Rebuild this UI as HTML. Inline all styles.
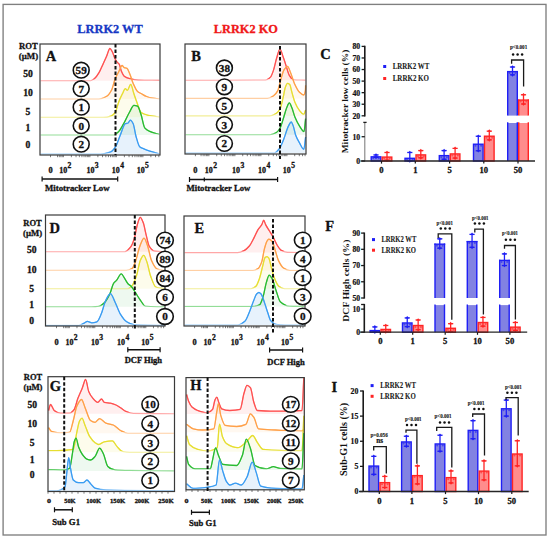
<!DOCTYPE html><html><head><meta charset="utf-8"><style>html,body{margin:0;padding:0;background:#fff;overflow:hidden;width:550px;height:541px;}svg{display:block;}</style></head><body>
<svg width="550" height="541" viewBox="0 0 550 541" font-family='"Liberation Serif", serif'>
<rect x="0" y="0" width="550" height="541" fill="#fff" stroke="none" stroke-width="1" />
<rect x="3.1" y="4.4" width="542.9" height="530.6" fill="none" stroke="#7f7f7f" stroke-width="1.35" />
<text x="77.3" y="33.1" font-size="12.4" fill="#1537c4" text-anchor="start" font-weight="bold" stroke="#1537c4" stroke-width="0.3" textLength="65.4" lengthAdjust="spacingAndGlyphs" >LRRK2 WT</text>
<text x="213.8" y="32.7" font-size="12.4" fill="#f01818" text-anchor="start" font-weight="bold" stroke="#f01818" stroke-width="0.3" textLength="64" lengthAdjust="spacingAndGlyphs" >LRRK2 KO</text>
<path d="M40.6,80.7 C57.27,80.7 73.93,80.7 90.6,80.7 C92,80.7 93.4,79.42 94.8,78.3 C96.2,77.18 97.6,75 99,72.7 C100.4,70.4 101.8,66.76 103.2,63.7 C104.37,61.15 105.53,58.55 106.7,55.9 C107.77,53.48 108.83,48.5 109.9,48.5 C110.7,48.5 111.5,50.29 112.3,51.7 C113.1,53.11 113.9,56.31 114.7,58 C115.43,59.55 116.17,60.96 116.9,61.9 C117.7,62.93 118.5,63.05 119.3,64.3 C120,65.39 120.7,69.67 121.4,71.3 C122.33,73.47 123.27,75.49 124.2,76.2 C126.07,77.62 127.93,78.23 129.8,78.7 C132.6,79.4 135.4,80.02 138.2,80.1 C145.27,80.31 152.33,80.3 159.4,80.4 L159.4,80.7 L40.6,80.7 Z" fill="rgba(255,80,80,0.09)" stroke="none"/>
<path d="M40.6,99 C60.07,99 79.53,99 99,99 C101.57,99 104.13,97.78 106.7,96.3 C108.33,95.36 109.97,93.05 111.6,90 C112.77,87.82 113.93,81.85 115.1,79 C116.27,76.15 117.43,74.25 118.6,72 C119.77,69.75 120.93,65.5 122.1,65.5 C122.8,65.5 123.5,67.31 124.2,67.6 C125.13,67.98 126.07,67.88 127,68.3 C127.93,68.72 128.87,71.82 129.8,74 C130.97,76.72 132.13,81.11 133.3,83.7 C134.7,86.81 136.1,90.15 137.5,91.4 C138.67,92.44 139.83,92.84 141,93.5 C142.87,94.56 144.73,95.82 146.6,96.5 C148.4,97.16 150.2,97.71 152,98 C154.47,98.39 156.93,98.53 159.4,98.8 L159.4,99 L40.6,99 Z" fill="rgba(255,160,70,0.08)" stroke="none"/>
<path d="M40.6,117.3 C61.6,117.3 82.6,117.3 103.6,117.3 C106.03,117.3 108.47,116.81 110.9,116.1 C112.33,115.68 113.77,114.41 115.2,112.5 C116.4,110.9 117.6,104.74 118.8,101.7 C120,98.66 121.2,96.13 122.4,93.8 C123.37,91.92 124.33,88.7 125.3,88.7 C126,88.7 126.7,90.3 127.4,90.3 C128.5,90.3 129.6,84.4 130.7,84.4 C131.77,84.4 132.83,90.74 133.9,93.8 C135.1,97.25 136.3,100.8 137.5,103.9 C138.7,107 139.9,111.63 141.1,112.5 C143.5,114.24 145.9,114.76 148.3,115.3 C152,116.14 155.7,116.43 159.4,117 L159.4,117.3 L40.6,117.3 Z" fill="rgba(230,225,40,0.09)" stroke="none"/>
<path d="M40.6,135 C64.97,135 89.33,135 113.7,135 C115.4,135 117.1,133.07 118.8,131.4 C120.47,129.77 122.13,126.33 123.8,123.4 C125.73,120 127.67,115.31 129.6,112 C131.03,109.54 132.47,105.4 133.9,105.4 C135.1,105.4 136.3,105.67 137.5,106.1 C138.7,106.53 139.9,111.33 141.1,114.8 C142.3,118.27 143.5,126.33 144.7,127.8 C146.4,129.89 148.1,130.62 149.8,131.4 C153,132.87 156.2,133.47 159.4,134.5 L159.4,135 L40.6,135 Z" fill="rgba(40,180,60,0.08)" stroke="none"/>
<path d="M40.6,154 C60.67,154 80.73,154 100.8,154 C104.17,154 107.53,153.13 110.9,151.8 C112.57,151.14 114.23,148.74 115.9,146.1 C117.33,143.83 118.77,138.73 120.2,135.3 C121.9,131.24 123.6,124.41 125.3,123.7 C126.23,123.31 127.17,123.4 128.1,123 C128.83,122.68 129.57,120.1 130.3,120.1 C131.27,120.1 132.23,121.82 133.2,123.7 C134.17,125.58 135.13,133.34 136.1,136.7 C137.3,140.88 138.5,145.78 139.7,146.8 C141.13,148.02 142.57,148.28 144,148.9 C145.93,149.73 147.87,150.47 149.8,151.1 C153,152.15 156.2,152.9 159.4,153.8 L159.4,154 L40.6,154 Z" fill="rgba(60,150,230,0.12)" stroke="none"/>
<clipPath id="cA0"><rect x="38" y="39" width="124" height="40.4"/></clipPath>
<path d="M40.6,80.7 C57.27,80.7 73.93,80.7 90.6,80.7 C92,80.7 93.4,79.42 94.8,78.3 C96.2,77.18 97.6,75 99,72.7 C100.4,70.4 101.8,66.76 103.2,63.7 C104.37,61.15 105.53,58.55 106.7,55.9 C107.77,53.48 108.83,48.5 109.9,48.5 C110.7,48.5 111.5,50.29 112.3,51.7 C113.1,53.11 113.9,56.31 114.7,58 C115.43,59.55 116.17,60.96 116.9,61.9 C117.7,62.93 118.5,63.05 119.3,64.3 C120,65.39 120.7,69.67 121.4,71.3 C122.33,73.47 123.27,75.49 124.2,76.2 C126.07,77.62 127.93,78.23 129.8,78.7 C132.6,79.4 135.4,80.02 138.2,80.1 C145.27,80.31 152.33,80.3 159.4,80.4" fill="none" stroke="#ff5050" stroke-opacity="0.5" stroke-width="1.1" stroke-linejoin="round"/>
<path d="M40.6,80.7 C57.27,80.7 73.93,80.7 90.6,80.7 C92,80.7 93.4,79.42 94.8,78.3 C96.2,77.18 97.6,75 99,72.7 C100.4,70.4 101.8,66.76 103.2,63.7 C104.37,61.15 105.53,58.55 106.7,55.9 C107.77,53.48 108.83,48.5 109.9,48.5 C110.7,48.5 111.5,50.29 112.3,51.7 C113.1,53.11 113.9,56.31 114.7,58 C115.43,59.55 116.17,60.96 116.9,61.9 C117.7,62.93 118.5,63.05 119.3,64.3 C120,65.39 120.7,69.67 121.4,71.3 C122.33,73.47 123.27,75.49 124.2,76.2 C126.07,77.62 127.93,78.23 129.8,78.7 C132.6,79.4 135.4,80.02 138.2,80.1 C145.27,80.31 152.33,80.3 159.4,80.4" fill="none" stroke="#ff5050" stroke-width="1.3" stroke-linejoin="round" clip-path="url(#cA0)"/>
<clipPath id="cA1"><rect x="38" y="39" width="124" height="58.7"/></clipPath>
<path d="M40.6,99 C60.07,99 79.53,99 99,99 C101.57,99 104.13,97.78 106.7,96.3 C108.33,95.36 109.97,93.05 111.6,90 C112.77,87.82 113.93,81.85 115.1,79 C116.27,76.15 117.43,74.25 118.6,72 C119.77,69.75 120.93,65.5 122.1,65.5 C122.8,65.5 123.5,67.31 124.2,67.6 C125.13,67.98 126.07,67.88 127,68.3 C127.93,68.72 128.87,71.82 129.8,74 C130.97,76.72 132.13,81.11 133.3,83.7 C134.7,86.81 136.1,90.15 137.5,91.4 C138.67,92.44 139.83,92.84 141,93.5 C142.87,94.56 144.73,95.82 146.6,96.5 C148.4,97.16 150.2,97.71 152,98 C154.47,98.39 156.93,98.53 159.4,98.8" fill="none" stroke="#ffa048" stroke-opacity="0.5" stroke-width="1.1" stroke-linejoin="round"/>
<path d="M40.6,99 C60.07,99 79.53,99 99,99 C101.57,99 104.13,97.78 106.7,96.3 C108.33,95.36 109.97,93.05 111.6,90 C112.77,87.82 113.93,81.85 115.1,79 C116.27,76.15 117.43,74.25 118.6,72 C119.77,69.75 120.93,65.5 122.1,65.5 C122.8,65.5 123.5,67.31 124.2,67.6 C125.13,67.98 126.07,67.88 127,68.3 C127.93,68.72 128.87,71.82 129.8,74 C130.97,76.72 132.13,81.11 133.3,83.7 C134.7,86.81 136.1,90.15 137.5,91.4 C138.67,92.44 139.83,92.84 141,93.5 C142.87,94.56 144.73,95.82 146.6,96.5 C148.4,97.16 150.2,97.71 152,98 C154.47,98.39 156.93,98.53 159.4,98.8" fill="none" stroke="#ffa048" stroke-width="1.3" stroke-linejoin="round" clip-path="url(#cA1)"/>
<clipPath id="cA2"><rect x="38" y="39" width="124" height="77"/></clipPath>
<path d="M40.6,117.3 C61.6,117.3 82.6,117.3 103.6,117.3 C106.03,117.3 108.47,116.81 110.9,116.1 C112.33,115.68 113.77,114.41 115.2,112.5 C116.4,110.9 117.6,104.74 118.8,101.7 C120,98.66 121.2,96.13 122.4,93.8 C123.37,91.92 124.33,88.7 125.3,88.7 C126,88.7 126.7,90.3 127.4,90.3 C128.5,90.3 129.6,84.4 130.7,84.4 C131.77,84.4 132.83,90.74 133.9,93.8 C135.1,97.25 136.3,100.8 137.5,103.9 C138.7,107 139.9,111.63 141.1,112.5 C143.5,114.24 145.9,114.76 148.3,115.3 C152,116.14 155.7,116.43 159.4,117" fill="none" stroke="#e6de30" stroke-opacity="0.5" stroke-width="1.1" stroke-linejoin="round"/>
<path d="M40.6,117.3 C61.6,117.3 82.6,117.3 103.6,117.3 C106.03,117.3 108.47,116.81 110.9,116.1 C112.33,115.68 113.77,114.41 115.2,112.5 C116.4,110.9 117.6,104.74 118.8,101.7 C120,98.66 121.2,96.13 122.4,93.8 C123.37,91.92 124.33,88.7 125.3,88.7 C126,88.7 126.7,90.3 127.4,90.3 C128.5,90.3 129.6,84.4 130.7,84.4 C131.77,84.4 132.83,90.74 133.9,93.8 C135.1,97.25 136.3,100.8 137.5,103.9 C138.7,107 139.9,111.63 141.1,112.5 C143.5,114.24 145.9,114.76 148.3,115.3 C152,116.14 155.7,116.43 159.4,117" fill="none" stroke="#e6de30" stroke-width="1.3" stroke-linejoin="round" clip-path="url(#cA2)"/>
<clipPath id="cA3"><rect x="38" y="39" width="124" height="94.7"/></clipPath>
<path d="M40.6,135 C64.97,135 89.33,135 113.7,135 C115.4,135 117.1,133.07 118.8,131.4 C120.47,129.77 122.13,126.33 123.8,123.4 C125.73,120 127.67,115.31 129.6,112 C131.03,109.54 132.47,105.4 133.9,105.4 C135.1,105.4 136.3,105.67 137.5,106.1 C138.7,106.53 139.9,111.33 141.1,114.8 C142.3,118.27 143.5,126.33 144.7,127.8 C146.4,129.89 148.1,130.62 149.8,131.4 C153,132.87 156.2,133.47 159.4,134.5" fill="none" stroke="#28bb30" stroke-opacity="0.5" stroke-width="1.1" stroke-linejoin="round"/>
<path d="M40.6,135 C64.97,135 89.33,135 113.7,135 C115.4,135 117.1,133.07 118.8,131.4 C120.47,129.77 122.13,126.33 123.8,123.4 C125.73,120 127.67,115.31 129.6,112 C131.03,109.54 132.47,105.4 133.9,105.4 C135.1,105.4 136.3,105.67 137.5,106.1 C138.7,106.53 139.9,111.33 141.1,114.8 C142.3,118.27 143.5,126.33 144.7,127.8 C146.4,129.89 148.1,130.62 149.8,131.4 C153,132.87 156.2,133.47 159.4,134.5" fill="none" stroke="#28bb30" stroke-width="1.3" stroke-linejoin="round" clip-path="url(#cA3)"/>
<clipPath id="cA4"><rect x="38" y="39" width="124" height="113.7"/></clipPath>
<path d="M40.6,154 C60.67,154 80.73,154 100.8,154 C104.17,154 107.53,153.13 110.9,151.8 C112.57,151.14 114.23,148.74 115.9,146.1 C117.33,143.83 118.77,138.73 120.2,135.3 C121.9,131.24 123.6,124.41 125.3,123.7 C126.23,123.31 127.17,123.4 128.1,123 C128.83,122.68 129.57,120.1 130.3,120.1 C131.27,120.1 132.23,121.82 133.2,123.7 C134.17,125.58 135.13,133.34 136.1,136.7 C137.3,140.88 138.5,145.78 139.7,146.8 C141.13,148.02 142.57,148.28 144,148.9 C145.93,149.73 147.87,150.47 149.8,151.1 C153,152.15 156.2,152.9 159.4,153.8" fill="none" stroke="#3a9cf2" stroke-opacity="0.5" stroke-width="1.1" stroke-linejoin="round"/>
<path d="M40.6,154 C60.67,154 80.73,154 100.8,154 C104.17,154 107.53,153.13 110.9,151.8 C112.57,151.14 114.23,148.74 115.9,146.1 C117.33,143.83 118.77,138.73 120.2,135.3 C121.9,131.24 123.6,124.41 125.3,123.7 C126.23,123.31 127.17,123.4 128.1,123 C128.83,122.68 129.57,120.1 130.3,120.1 C131.27,120.1 132.23,121.82 133.2,123.7 C134.17,125.58 135.13,133.34 136.1,136.7 C137.3,140.88 138.5,145.78 139.7,146.8 C141.13,148.02 142.57,148.28 144,148.9 C145.93,149.73 147.87,150.47 149.8,151.1 C153,152.15 156.2,152.9 159.4,153.8" fill="none" stroke="#3a9cf2" stroke-width="1.3" stroke-linejoin="round" clip-path="url(#cA4)"/>
<rect x="40" y="44" width="120" height="111" fill="none" stroke="#3a3a3a" stroke-width="1.2" />
<line x1="50.5" y1="155" x2="50.5" y2="157.2" stroke="#444" stroke-width="0.7" />
<line x1="57.52" y1="155" x2="57.52" y2="157.2" stroke="#444" stroke-width="0.7" />
<line x1="59.3" y1="155" x2="59.3" y2="157.2" stroke="#444" stroke-width="0.7" />
<line x1="60.83" y1="155" x2="60.83" y2="157.2" stroke="#444" stroke-width="0.7" />
<line x1="62.19" y1="155" x2="62.19" y2="157.2" stroke="#444" stroke-width="0.7" />
<line x1="63.4" y1="155" x2="63.4" y2="157.2" stroke="#444" stroke-width="0.7" />
<line x1="71.38" y1="155" x2="71.38" y2="157.2" stroke="#444" stroke-width="0.7" />
<line x1="76.04" y1="155" x2="76.04" y2="157.2" stroke="#444" stroke-width="0.7" />
<line x1="79.35" y1="155" x2="79.35" y2="157.2" stroke="#444" stroke-width="0.7" />
<line x1="81.92" y1="155" x2="81.92" y2="157.2" stroke="#444" stroke-width="0.7" />
<line x1="84.02" y1="155" x2="84.02" y2="157.2" stroke="#444" stroke-width="0.7" />
<line x1="85.8" y1="155" x2="85.8" y2="157.2" stroke="#444" stroke-width="0.7" />
<line x1="87.33" y1="155" x2="87.33" y2="157.2" stroke="#444" stroke-width="0.7" />
<line x1="88.69" y1="155" x2="88.69" y2="157.2" stroke="#444" stroke-width="0.7" />
<line x1="89.9" y1="155" x2="89.9" y2="157.2" stroke="#444" stroke-width="0.7" />
<line x1="97.88" y1="155" x2="97.88" y2="157.2" stroke="#444" stroke-width="0.7" />
<line x1="102.54" y1="155" x2="102.54" y2="157.2" stroke="#444" stroke-width="0.7" />
<line x1="105.85" y1="155" x2="105.85" y2="157.2" stroke="#444" stroke-width="0.7" />
<line x1="108.42" y1="155" x2="108.42" y2="157.2" stroke="#444" stroke-width="0.7" />
<line x1="110.52" y1="155" x2="110.52" y2="157.2" stroke="#444" stroke-width="0.7" />
<line x1="112.3" y1="155" x2="112.3" y2="157.2" stroke="#444" stroke-width="0.7" />
<line x1="113.83" y1="155" x2="113.83" y2="157.2" stroke="#444" stroke-width="0.7" />
<line x1="115.19" y1="155" x2="115.19" y2="157.2" stroke="#444" stroke-width="0.7" />
<line x1="116.4" y1="155" x2="116.4" y2="157.2" stroke="#444" stroke-width="0.7" />
<line x1="124.38" y1="155" x2="124.38" y2="157.2" stroke="#444" stroke-width="0.7" />
<line x1="129.04" y1="155" x2="129.04" y2="157.2" stroke="#444" stroke-width="0.7" />
<line x1="132.35" y1="155" x2="132.35" y2="157.2" stroke="#444" stroke-width="0.7" />
<line x1="134.92" y1="155" x2="134.92" y2="157.2" stroke="#444" stroke-width="0.7" />
<line x1="137.02" y1="155" x2="137.02" y2="157.2" stroke="#444" stroke-width="0.7" />
<line x1="138.8" y1="155" x2="138.8" y2="157.2" stroke="#444" stroke-width="0.7" />
<line x1="140.33" y1="155" x2="140.33" y2="157.2" stroke="#444" stroke-width="0.7" />
<line x1="141.69" y1="155" x2="141.69" y2="157.2" stroke="#444" stroke-width="0.7" />
<line x1="142.9" y1="155" x2="142.9" y2="157.2" stroke="#444" stroke-width="0.7" />
<line x1="150.88" y1="155" x2="150.88" y2="157.2" stroke="#444" stroke-width="0.7" />
<line x1="155.54" y1="155" x2="155.54" y2="157.2" stroke="#444" stroke-width="0.7" />
<line x1="158.85" y1="155" x2="158.85" y2="157.2" stroke="#444" stroke-width="0.7" />
<line x1="115.5" y1="44" x2="115.5" y2="155" stroke="#111" stroke-width="2" stroke-dasharray="3.5,2"/>
<ellipse cx="81.2" cy="70.2" rx="7.95" ry="7.8" fill="#fff" stroke="#111" stroke-width="1.6"/>
<text x="81.2" y="74.1" font-size="11.2" fill="#111" text-anchor="middle" font-weight="bold" stroke="#111" stroke-width="0.3" >59</text>
<ellipse cx="81.2" cy="88.7" rx="7.95" ry="7.8" fill="#fff" stroke="#111" stroke-width="1.6"/>
<text x="81.2" y="92.6" font-size="11.2" fill="#111" text-anchor="middle" font-weight="bold" stroke="#111" stroke-width="0.3" >7</text>
<ellipse cx="81.2" cy="107.2" rx="7.95" ry="7.8" fill="#fff" stroke="#111" stroke-width="1.6"/>
<text x="81.2" y="111.1" font-size="11.2" fill="#111" text-anchor="middle" font-weight="bold" stroke="#111" stroke-width="0.3" >1</text>
<ellipse cx="81.2" cy="125.7" rx="7.95" ry="7.8" fill="#fff" stroke="#111" stroke-width="1.6"/>
<text x="81.2" y="129.6" font-size="11.2" fill="#111" text-anchor="middle" font-weight="bold" stroke="#111" stroke-width="0.3" >0</text>
<ellipse cx="81.2" cy="144.2" rx="7.95" ry="7.8" fill="#fff" stroke="#111" stroke-width="1.6"/>
<text x="81.2" y="148.1" font-size="11.2" fill="#111" text-anchor="middle" font-weight="bold" stroke="#111" stroke-width="0.3" >2</text>
<text x="45.8" y="61" font-size="14.5" fill="#111" text-anchor="start" font-weight="bold" stroke="#111" stroke-width="0.3" >A</text>
<text x="19" y="48.8" font-size="8.8" fill="#111" text-anchor="start" font-weight="bold" stroke="#111" stroke-width="0.3" textLength="18.8" lengthAdjust="spacingAndGlyphs" >ROT</text>
<text x="18.7" y="59.2" font-size="8.8" fill="#111" text-anchor="start" font-weight="bold" stroke="#111" stroke-width="0.3" textLength="19.4" lengthAdjust="spacingAndGlyphs" >(µM)</text>
<text x="28" y="77.3" font-size="9.6" fill="#111" text-anchor="middle" font-weight="bold" stroke="#111" stroke-width="0.3" >50</text>
<text x="28" y="96.1" font-size="9.6" fill="#111" text-anchor="middle" font-weight="bold" stroke="#111" stroke-width="0.3" >10</text>
<text x="28" y="115" font-size="9.6" fill="#111" text-anchor="middle" font-weight="bold" stroke="#111" stroke-width="0.3" >5</text>
<text x="28" y="131.3" font-size="9.6" fill="#111" text-anchor="middle" font-weight="bold" stroke="#111" stroke-width="0.3" >1</text>
<text x="28" y="147.5" font-size="9.6" fill="#111" text-anchor="middle" font-weight="bold" stroke="#111" stroke-width="0.3" >0</text>
<text x="48.4" y="172.5" font-size="7.9" fill="#111" text-anchor="start" font-weight="bold" stroke="#111" stroke-width="0.3" textLength="4.2" lengthAdjust="spacingAndGlyphs" >0</text>
<text x="59.2" y="172.5" font-size="7.9" fill="#111" text-anchor="start" font-weight="bold" stroke="#111" stroke-width="0.3" textLength="8" lengthAdjust="spacingAndGlyphs" >10</text>
<text x="67.6" y="167.5" font-size="7.4" fill="#111" text-anchor="start" font-weight="bold" stroke="#111" stroke-width="0.3" textLength="3.8" lengthAdjust="spacingAndGlyphs" >2</text>
<text x="86.4" y="172.5" font-size="7.9" fill="#111" text-anchor="start" font-weight="bold" stroke="#111" stroke-width="0.3" textLength="8" lengthAdjust="spacingAndGlyphs" >10</text>
<text x="94.8" y="167.5" font-size="7.4" fill="#111" text-anchor="start" font-weight="bold" stroke="#111" stroke-width="0.3" textLength="3.8" lengthAdjust="spacingAndGlyphs" >3</text>
<text x="111.8" y="172.5" font-size="7.9" fill="#111" text-anchor="start" font-weight="bold" stroke="#111" stroke-width="0.3" textLength="8" lengthAdjust="spacingAndGlyphs" >10</text>
<text x="120.2" y="167.5" font-size="7.4" fill="#111" text-anchor="start" font-weight="bold" stroke="#111" stroke-width="0.3" textLength="3.8" lengthAdjust="spacingAndGlyphs" >4</text>
<text x="136.7" y="172.5" font-size="7.9" fill="#111" text-anchor="start" font-weight="bold" stroke="#111" stroke-width="0.3" textLength="8" lengthAdjust="spacingAndGlyphs" >10</text>
<text x="145.1" y="167.5" font-size="7.4" fill="#111" text-anchor="start" font-weight="bold" stroke="#111" stroke-width="0.3" textLength="3.8" lengthAdjust="spacingAndGlyphs" >5</text>
<line x1="42.1" y1="179" x2="117.7" y2="179" stroke="#111" stroke-width="1.5" />
<line x1="42.1" y1="176.5" x2="42.1" y2="181.5" stroke="#111" stroke-width="1.2" />
<line x1="117.7" y1="176.5" x2="117.7" y2="181.5" stroke="#111" stroke-width="1.2" />
<text x="45" y="190.7" font-size="8.7" fill="#111" text-anchor="start" font-weight="bold" stroke="#111" stroke-width="0.3" textLength="64.5" lengthAdjust="spacingAndGlyphs" >Mitotracker Low</text>
<path d="M185.6,80.3 C212.2,80.2 238.8,80.28 265.4,80 C267.1,79.98 268.8,78.73 270.5,77.1 C271.53,76.11 272.57,72.9 273.6,69.9 C274.67,66.81 275.73,60.87 276.8,57.5 C277.83,54.23 278.87,49.2 279.9,49.2 C280.93,49.2 281.97,53.68 283,56.4 C284.03,59.12 285.07,62.68 286.1,65.8 C287.13,68.92 288.17,73.38 289.2,75.1 C290.57,77.38 291.93,79.6 293.3,79.7 C297.33,80.01 301.37,79.97 305.4,80.1 L305.4,80.3 L185.6,80.3 Z" fill="rgba(255,80,80,0.09)" stroke="none"/>
<path d="M185.6,98.4 C212.87,98.4 240.13,98.4 267.4,98.4 C269.47,98.4 271.53,97.14 273.6,95.8 C275,94.89 276.4,93.26 277.8,90.6 C278.83,88.64 279.87,82.61 280.9,79.2 C281.93,75.79 282.97,71.47 284,69.9 C285.2,68.08 286.4,66.3 287.6,66.3 C288.63,66.3 289.67,70.48 290.7,73 C291.93,76 293.17,80.73 294.4,83.4 C296.1,87.08 297.8,90.59 299.5,92.2 C300.9,93.53 302.3,95 303.7,95 C304.27,95 304.83,93.91 305.4,90.4 C305.47,89.99 305.53,87.07 305.6,85.4 L305.6,98.4 L185.6,98.4 Z" fill="rgba(255,160,70,0.08)" stroke="none"/>
<path d="M185.6,115.9 C213.67,115.9 241.73,115.9 269.8,115.9 C272,115.9 274.2,114.68 276.4,113.3 C277.63,112.53 278.87,111.1 280.1,108.8 C281.1,106.94 282.1,101.86 283.1,97.7 C283.83,94.65 284.57,89.36 285.3,87.4 C286.03,85.44 286.77,83.3 287.5,83.3 C288.23,83.3 288.97,83.76 289.7,84.4 C290.47,85.07 291.23,89.96 292,92.6 C292.97,95.92 293.93,99.9 294.9,102.2 C296.4,105.77 297.9,108.43 299.4,110.3 C300.87,112.13 302.33,114.5 303.8,114.5 C304.4,114.5 305,111.43 305.6,109.9 L305.6,115.9 L185.6,115.9 Z" fill="rgba(230,225,40,0.09)" stroke="none"/>
<path d="M185.6,134.7 C213.67,134.7 241.73,134.7 269.8,134.7 C272,134.7 274.2,133.72 276.4,132.5 C277.63,131.82 278.87,130.13 280.1,128 C281.33,125.87 282.57,120.81 283.8,117 C284.8,113.91 285.8,109.68 286.8,107.4 C287.63,105.5 288.47,102.9 289.3,102.9 C290.2,102.9 291.1,105.98 292,108.1 C292.97,110.38 293.93,114.65 294.9,117 C296.4,120.64 297.9,123.52 299.4,125.8 C300.93,128.13 302.47,131.5 304,131.5 C304.53,131.5 305.07,122.97 305.6,118.7 L305.6,134.7 L185.6,134.7 Z" fill="rgba(40,180,60,0.08)" stroke="none"/>
<path d="M185.6,153 C215.13,153 244.67,153 274.2,153 C275.93,153 277.67,150.74 279.4,148.6 C280.87,146.79 282.33,142.6 283.8,139 C285.3,135.32 286.8,129.29 288.3,126.4 C289.27,124.54 290.23,122 291.2,122 C291.93,122 292.67,124.47 293.4,126.4 C294.17,128.42 294.93,133.23 295.7,135.3 C296.93,138.63 298.17,140.58 299.4,142.7 C300.87,145.22 302.33,149.3 303.8,149.3 C304.4,149.3 305,141.1 305.6,137 L305.6,153 L185.6,153 Z" fill="rgba(60,150,230,0.12)" stroke="none"/>
<clipPath id="cB0"><rect x="183" y="39" width="125" height="40"/></clipPath>
<path d="M185.6,80.3 C212.2,80.2 238.8,80.28 265.4,80 C267.1,79.98 268.8,78.73 270.5,77.1 C271.53,76.11 272.57,72.9 273.6,69.9 C274.67,66.81 275.73,60.87 276.8,57.5 C277.83,54.23 278.87,49.2 279.9,49.2 C280.93,49.2 281.97,53.68 283,56.4 C284.03,59.12 285.07,62.68 286.1,65.8 C287.13,68.92 288.17,73.38 289.2,75.1 C290.57,77.38 291.93,79.6 293.3,79.7 C297.33,80.01 301.37,79.97 305.4,80.1" fill="none" stroke="#ff5050" stroke-opacity="0.5" stroke-width="1.1" stroke-linejoin="round"/>
<path d="M185.6,80.3 C212.2,80.2 238.8,80.28 265.4,80 C267.1,79.98 268.8,78.73 270.5,77.1 C271.53,76.11 272.57,72.9 273.6,69.9 C274.67,66.81 275.73,60.87 276.8,57.5 C277.83,54.23 278.87,49.2 279.9,49.2 C280.93,49.2 281.97,53.68 283,56.4 C284.03,59.12 285.07,62.68 286.1,65.8 C287.13,68.92 288.17,73.38 289.2,75.1 C290.57,77.38 291.93,79.6 293.3,79.7 C297.33,80.01 301.37,79.97 305.4,80.1" fill="none" stroke="#ff5050" stroke-width="1.3" stroke-linejoin="round" clip-path="url(#cB0)"/>
<clipPath id="cB1"><rect x="183" y="39" width="125" height="58.1"/></clipPath>
<path d="M185.6,98.4 C212.87,98.4 240.13,98.4 267.4,98.4 C269.47,98.4 271.53,97.14 273.6,95.8 C275,94.89 276.4,93.26 277.8,90.6 C278.83,88.64 279.87,82.61 280.9,79.2 C281.93,75.79 282.97,71.47 284,69.9 C285.2,68.08 286.4,66.3 287.6,66.3 C288.63,66.3 289.67,70.48 290.7,73 C291.93,76 293.17,80.73 294.4,83.4 C296.1,87.08 297.8,90.59 299.5,92.2 C300.9,93.53 302.3,95 303.7,95 C304.27,95 304.83,93.91 305.4,90.4 C305.47,89.99 305.53,87.07 305.6,85.4" fill="none" stroke="#ffa048" stroke-opacity="0.5" stroke-width="1.1" stroke-linejoin="round"/>
<path d="M185.6,98.4 C212.87,98.4 240.13,98.4 267.4,98.4 C269.47,98.4 271.53,97.14 273.6,95.8 C275,94.89 276.4,93.26 277.8,90.6 C278.83,88.64 279.87,82.61 280.9,79.2 C281.93,75.79 282.97,71.47 284,69.9 C285.2,68.08 286.4,66.3 287.6,66.3 C288.63,66.3 289.67,70.48 290.7,73 C291.93,76 293.17,80.73 294.4,83.4 C296.1,87.08 297.8,90.59 299.5,92.2 C300.9,93.53 302.3,95 303.7,95 C304.27,95 304.83,93.91 305.4,90.4 C305.47,89.99 305.53,87.07 305.6,85.4" fill="none" stroke="#ffa048" stroke-width="1.3" stroke-linejoin="round" clip-path="url(#cB1)"/>
<clipPath id="cB2"><rect x="183" y="39" width="125" height="75.6"/></clipPath>
<path d="M185.6,115.9 C213.67,115.9 241.73,115.9 269.8,115.9 C272,115.9 274.2,114.68 276.4,113.3 C277.63,112.53 278.87,111.1 280.1,108.8 C281.1,106.94 282.1,101.86 283.1,97.7 C283.83,94.65 284.57,89.36 285.3,87.4 C286.03,85.44 286.77,83.3 287.5,83.3 C288.23,83.3 288.97,83.76 289.7,84.4 C290.47,85.07 291.23,89.96 292,92.6 C292.97,95.92 293.93,99.9 294.9,102.2 C296.4,105.77 297.9,108.43 299.4,110.3 C300.87,112.13 302.33,114.5 303.8,114.5 C304.4,114.5 305,111.43 305.6,109.9" fill="none" stroke="#e6de30" stroke-opacity="0.5" stroke-width="1.1" stroke-linejoin="round"/>
<path d="M185.6,115.9 C213.67,115.9 241.73,115.9 269.8,115.9 C272,115.9 274.2,114.68 276.4,113.3 C277.63,112.53 278.87,111.1 280.1,108.8 C281.1,106.94 282.1,101.86 283.1,97.7 C283.83,94.65 284.57,89.36 285.3,87.4 C286.03,85.44 286.77,83.3 287.5,83.3 C288.23,83.3 288.97,83.76 289.7,84.4 C290.47,85.07 291.23,89.96 292,92.6 C292.97,95.92 293.93,99.9 294.9,102.2 C296.4,105.77 297.9,108.43 299.4,110.3 C300.87,112.13 302.33,114.5 303.8,114.5 C304.4,114.5 305,111.43 305.6,109.9" fill="none" stroke="#e6de30" stroke-width="1.3" stroke-linejoin="round" clip-path="url(#cB2)"/>
<clipPath id="cB3"><rect x="183" y="39" width="125" height="94.4"/></clipPath>
<path d="M185.6,134.7 C213.67,134.7 241.73,134.7 269.8,134.7 C272,134.7 274.2,133.72 276.4,132.5 C277.63,131.82 278.87,130.13 280.1,128 C281.33,125.87 282.57,120.81 283.8,117 C284.8,113.91 285.8,109.68 286.8,107.4 C287.63,105.5 288.47,102.9 289.3,102.9 C290.2,102.9 291.1,105.98 292,108.1 C292.97,110.38 293.93,114.65 294.9,117 C296.4,120.64 297.9,123.52 299.4,125.8 C300.93,128.13 302.47,131.5 304,131.5 C304.53,131.5 305.07,122.97 305.6,118.7" fill="none" stroke="#28bb30" stroke-opacity="0.5" stroke-width="1.1" stroke-linejoin="round"/>
<path d="M185.6,134.7 C213.67,134.7 241.73,134.7 269.8,134.7 C272,134.7 274.2,133.72 276.4,132.5 C277.63,131.82 278.87,130.13 280.1,128 C281.33,125.87 282.57,120.81 283.8,117 C284.8,113.91 285.8,109.68 286.8,107.4 C287.63,105.5 288.47,102.9 289.3,102.9 C290.2,102.9 291.1,105.98 292,108.1 C292.97,110.38 293.93,114.65 294.9,117 C296.4,120.64 297.9,123.52 299.4,125.8 C300.93,128.13 302.47,131.5 304,131.5 C304.53,131.5 305.07,122.97 305.6,118.7" fill="none" stroke="#28bb30" stroke-width="1.3" stroke-linejoin="round" clip-path="url(#cB3)"/>
<clipPath id="cB4"><rect x="183" y="39" width="125" height="112.7"/></clipPath>
<path d="M185.6,153 C215.13,153 244.67,153 274.2,153 C275.93,153 277.67,150.74 279.4,148.6 C280.87,146.79 282.33,142.6 283.8,139 C285.3,135.32 286.8,129.29 288.3,126.4 C289.27,124.54 290.23,122 291.2,122 C291.93,122 292.67,124.47 293.4,126.4 C294.17,128.42 294.93,133.23 295.7,135.3 C296.93,138.63 298.17,140.58 299.4,142.7 C300.87,145.22 302.33,149.3 303.8,149.3 C304.4,149.3 305,141.1 305.6,137" fill="none" stroke="#3a9cf2" stroke-opacity="0.5" stroke-width="1.1" stroke-linejoin="round"/>
<path d="M185.6,153 C215.13,153 244.67,153 274.2,153 C275.93,153 277.67,150.74 279.4,148.6 C280.87,146.79 282.33,142.6 283.8,139 C285.3,135.32 286.8,129.29 288.3,126.4 C289.27,124.54 290.23,122 291.2,122 C291.93,122 292.67,124.47 293.4,126.4 C294.17,128.42 294.93,133.23 295.7,135.3 C296.93,138.63 298.17,140.58 299.4,142.7 C300.87,145.22 302.33,149.3 303.8,149.3 C304.4,149.3 305,141.1 305.6,137" fill="none" stroke="#3a9cf2" stroke-width="1.3" stroke-linejoin="round" clip-path="url(#cB4)"/>
<rect x="185" y="44" width="121" height="110" fill="none" stroke="#3a3a3a" stroke-width="1.2" />
<line x1="195.4" y1="154" x2="195.4" y2="156.2" stroke="#444" stroke-width="0.7" />
<line x1="201.07" y1="154" x2="201.07" y2="156.2" stroke="#444" stroke-width="0.7" />
<line x1="203.13" y1="154" x2="203.13" y2="156.2" stroke="#444" stroke-width="0.7" />
<line x1="204.87" y1="154" x2="204.87" y2="156.2" stroke="#444" stroke-width="0.7" />
<line x1="206.38" y1="154" x2="206.38" y2="156.2" stroke="#444" stroke-width="0.7" />
<line x1="207.71" y1="154" x2="207.71" y2="156.2" stroke="#444" stroke-width="0.7" />
<line x1="208.9" y1="154" x2="208.9" y2="156.2" stroke="#444" stroke-width="0.7" />
<line x1="216.73" y1="154" x2="216.73" y2="156.2" stroke="#444" stroke-width="0.7" />
<line x1="221.31" y1="154" x2="221.31" y2="156.2" stroke="#444" stroke-width="0.7" />
<line x1="224.55" y1="154" x2="224.55" y2="156.2" stroke="#444" stroke-width="0.7" />
<line x1="227.07" y1="154" x2="227.07" y2="156.2" stroke="#444" stroke-width="0.7" />
<line x1="229.13" y1="154" x2="229.13" y2="156.2" stroke="#444" stroke-width="0.7" />
<line x1="230.87" y1="154" x2="230.87" y2="156.2" stroke="#444" stroke-width="0.7" />
<line x1="232.38" y1="154" x2="232.38" y2="156.2" stroke="#444" stroke-width="0.7" />
<line x1="233.71" y1="154" x2="233.71" y2="156.2" stroke="#444" stroke-width="0.7" />
<line x1="234.9" y1="154" x2="234.9" y2="156.2" stroke="#444" stroke-width="0.7" />
<line x1="242.73" y1="154" x2="242.73" y2="156.2" stroke="#444" stroke-width="0.7" />
<line x1="247.31" y1="154" x2="247.31" y2="156.2" stroke="#444" stroke-width="0.7" />
<line x1="250.55" y1="154" x2="250.55" y2="156.2" stroke="#444" stroke-width="0.7" />
<line x1="253.07" y1="154" x2="253.07" y2="156.2" stroke="#444" stroke-width="0.7" />
<line x1="255.13" y1="154" x2="255.13" y2="156.2" stroke="#444" stroke-width="0.7" />
<line x1="256.87" y1="154" x2="256.87" y2="156.2" stroke="#444" stroke-width="0.7" />
<line x1="258.38" y1="154" x2="258.38" y2="156.2" stroke="#444" stroke-width="0.7" />
<line x1="259.71" y1="154" x2="259.71" y2="156.2" stroke="#444" stroke-width="0.7" />
<line x1="260.9" y1="154" x2="260.9" y2="156.2" stroke="#444" stroke-width="0.7" />
<line x1="268.73" y1="154" x2="268.73" y2="156.2" stroke="#444" stroke-width="0.7" />
<line x1="273.31" y1="154" x2="273.31" y2="156.2" stroke="#444" stroke-width="0.7" />
<line x1="276.55" y1="154" x2="276.55" y2="156.2" stroke="#444" stroke-width="0.7" />
<line x1="279.07" y1="154" x2="279.07" y2="156.2" stroke="#444" stroke-width="0.7" />
<line x1="281.13" y1="154" x2="281.13" y2="156.2" stroke="#444" stroke-width="0.7" />
<line x1="282.87" y1="154" x2="282.87" y2="156.2" stroke="#444" stroke-width="0.7" />
<line x1="284.38" y1="154" x2="284.38" y2="156.2" stroke="#444" stroke-width="0.7" />
<line x1="285.71" y1="154" x2="285.71" y2="156.2" stroke="#444" stroke-width="0.7" />
<line x1="286.9" y1="154" x2="286.9" y2="156.2" stroke="#444" stroke-width="0.7" />
<line x1="294.73" y1="154" x2="294.73" y2="156.2" stroke="#444" stroke-width="0.7" />
<line x1="299.31" y1="154" x2="299.31" y2="156.2" stroke="#444" stroke-width="0.7" />
<line x1="302.55" y1="154" x2="302.55" y2="156.2" stroke="#444" stroke-width="0.7" />
<line x1="305.07" y1="154" x2="305.07" y2="156.2" stroke="#444" stroke-width="0.7" />
<line x1="280" y1="46" x2="280" y2="159" stroke="#111" stroke-width="2" stroke-dasharray="3.5,2"/>
<ellipse cx="224.4" cy="67.9" rx="7.95" ry="7.8" fill="#fff" stroke="#111" stroke-width="1.6"/>
<text x="224.4" y="71.8" font-size="11.2" fill="#111" text-anchor="middle" font-weight="bold" stroke="#111" stroke-width="0.3" >38</text>
<ellipse cx="224.4" cy="86.8" rx="7.95" ry="7.8" fill="#fff" stroke="#111" stroke-width="1.6"/>
<text x="224.4" y="90.7" font-size="11.2" fill="#111" text-anchor="middle" font-weight="bold" stroke="#111" stroke-width="0.3" >9</text>
<ellipse cx="224.4" cy="105.7" rx="7.95" ry="7.8" fill="#fff" stroke="#111" stroke-width="1.6"/>
<text x="224.4" y="109.6" font-size="11.2" fill="#111" text-anchor="middle" font-weight="bold" stroke="#111" stroke-width="0.3" >5</text>
<ellipse cx="224.4" cy="124.6" rx="7.95" ry="7.8" fill="#fff" stroke="#111" stroke-width="1.6"/>
<text x="224.4" y="128.5" font-size="11.2" fill="#111" text-anchor="middle" font-weight="bold" stroke="#111" stroke-width="0.3" >3</text>
<ellipse cx="224.4" cy="143.5" rx="7.95" ry="7.8" fill="#fff" stroke="#111" stroke-width="1.6"/>
<text x="224.4" y="147.4" font-size="11.2" fill="#111" text-anchor="middle" font-weight="bold" stroke="#111" stroke-width="0.3" >2</text>
<text x="191.2" y="60.8" font-size="14.5" fill="#111" text-anchor="start" font-weight="bold" stroke="#111" stroke-width="0.3" >B</text>
<text x="193.3" y="172.5" font-size="7.9" fill="#111" text-anchor="start" font-weight="bold" stroke="#111" stroke-width="0.3" textLength="4.2" lengthAdjust="spacingAndGlyphs" >0</text>
<text x="204.8" y="172.5" font-size="7.9" fill="#111" text-anchor="start" font-weight="bold" stroke="#111" stroke-width="0.3" textLength="8" lengthAdjust="spacingAndGlyphs" >10</text>
<text x="213.2" y="167.5" font-size="7.4" fill="#111" text-anchor="start" font-weight="bold" stroke="#111" stroke-width="0.3" textLength="3.8" lengthAdjust="spacingAndGlyphs" >2</text>
<text x="232" y="172.5" font-size="7.9" fill="#111" text-anchor="start" font-weight="bold" stroke="#111" stroke-width="0.3" textLength="8" lengthAdjust="spacingAndGlyphs" >10</text>
<text x="240.4" y="167.5" font-size="7.4" fill="#111" text-anchor="start" font-weight="bold" stroke="#111" stroke-width="0.3" textLength="3.8" lengthAdjust="spacingAndGlyphs" >3</text>
<text x="258" y="172.5" font-size="7.9" fill="#111" text-anchor="start" font-weight="bold" stroke="#111" stroke-width="0.3" textLength="8" lengthAdjust="spacingAndGlyphs" >10</text>
<text x="266.4" y="167.5" font-size="7.4" fill="#111" text-anchor="start" font-weight="bold" stroke="#111" stroke-width="0.3" textLength="3.8" lengthAdjust="spacingAndGlyphs" >4</text>
<text x="282.8" y="172.5" font-size="7.9" fill="#111" text-anchor="start" font-weight="bold" stroke="#111" stroke-width="0.3" textLength="8" lengthAdjust="spacingAndGlyphs" >10</text>
<text x="291.2" y="167.5" font-size="7.4" fill="#111" text-anchor="start" font-weight="bold" stroke="#111" stroke-width="0.3" textLength="3.8" lengthAdjust="spacingAndGlyphs" >5</text>
<line x1="189.5" y1="179.5" x2="277.6" y2="179.5" stroke="#111" stroke-width="1.5" />
<line x1="189.5" y1="177" x2="189.5" y2="182" stroke="#111" stroke-width="1.2" />
<line x1="277.6" y1="177" x2="277.6" y2="182" stroke="#111" stroke-width="1.2" />
<line x1="204.3" y1="177.5" x2="204.3" y2="181.5" stroke="#111" stroke-width="1.2" />
<text x="186.6" y="190.5" font-size="8.7" fill="#111" text-anchor="start" font-weight="bold" stroke="#111" stroke-width="0.3" textLength="63.8" lengthAdjust="spacingAndGlyphs" >Mitotracker Low</text>
<path d="M46,251.7 C72.27,251.7 98.53,251.7 124.8,251.7 C126.77,251.7 128.73,249.38 130.7,246.9 C131.93,245.35 133.17,242.01 134.4,238.1 C135.37,235.03 136.33,227.91 137.3,224.8 C138.3,221.59 139.3,217.4 140.3,217.4 C141.27,217.4 142.23,220.18 143.2,222.6 C144.2,225.1 145.2,231.18 146.2,235.1 C147.2,239.02 148.2,244.59 149.2,246.2 C150.9,248.93 152.6,250.89 154.3,251.1 C157.67,251.52 161.03,251.5 164.4,251.7 L164.4,251.7 L46,251.7 Z" fill="rgba(255,80,80,0.09)" stroke="none"/>
<path d="M46,270.3 C72.77,270.3 99.53,270.3 126.3,270.3 C128.27,270.3 130.23,269.57 132.2,268.4 C133.43,267.66 134.67,263.58 135.9,260.2 C137.13,256.82 138.37,250.1 139.6,246.9 C141.07,243.1 142.53,238.1 144,238.1 C145.23,238.1 146.47,242.78 147.7,246.2 C148.93,249.62 150.17,257.45 151.4,260.2 C153.37,264.59 155.33,268.49 157.3,269.1 C159.67,269.84 162.03,269.9 164.4,270.3 L164.4,270.3 L46,270.3 Z" fill="rgba(255,160,70,0.08)" stroke="none"/>
<path d="M46,288.7 C73.33,288.7 100.67,288.7 128,288.7 C129.4,288.7 130.8,287.17 132.2,285.6 C133.67,283.96 135.13,279.59 136.6,275.2 C137.83,271.51 139.07,263.07 140.3,260.4 C141.43,257.94 142.57,255.3 143.7,255.3 C144.77,255.3 145.83,259.07 146.9,261.9 C148.13,265.18 149.37,272.59 150.6,276 C152.33,280.79 154.07,286.33 155.8,287 C158.67,288.11 161.53,288.13 164.4,288.7 L164.4,288.7 L46,288.7 Z" fill="rgba(230,225,40,0.09)" stroke="none"/>
<path d="M46,306.8 C61.27,306.8 76.53,306.8 91.8,306.8 C94.23,306.8 96.67,306.61 99.1,306.3 C101.03,306.05 102.97,304.15 104.9,302.2 C106.6,300.49 108.3,297.17 110,293.5 C111.2,290.91 112.4,285.04 113.6,283.3 C114.57,281.9 115.53,281.5 116.5,280.4 C118.1,278.57 119.7,273.8 121.3,273.8 C122.37,273.8 123.43,276.64 124.5,278.2 C125.73,280 126.97,282.76 128.2,284 C129.17,284.97 130.13,285.25 131.1,286.2 C132.57,287.64 134.03,290.49 135.5,292.7 C136.93,294.86 138.37,297.35 139.8,299.3 C141.73,301.93 143.67,306.18 145.6,306.3 C151.87,306.69 158.13,306.63 164.4,306.8 L164.4,306.8 L46,306.8 Z" fill="rgba(40,180,60,0.08)" stroke="none"/>
<path d="M46,325.5 C56.9,325.5 67.8,325.5 78.7,325.5 C80.4,325.5 82.1,324.1 83.8,323.3 C85.03,322.72 86.27,321.4 87.5,321.4 C88.93,321.4 90.37,322.8 91.8,322.8 C93.5,322.8 95.2,322.41 96.9,321.8 C98.37,321.27 99.83,317.14 101.3,313.8 C102.73,310.53 104.17,303.55 105.6,300.7 C107.2,297.52 108.8,293.7 110.4,293.7 C111.97,293.7 113.53,299.05 115.1,302.2 C116.8,305.62 118.5,311.05 120.2,313.8 C122.37,317.3 124.53,320.49 126.7,321.8 C129.13,323.28 131.57,324.55 134,324.7 C144.13,325.31 154.27,325.23 164.4,325.5 L164.4,325.5 L46,325.5 Z" fill="rgba(60,150,230,0.12)" stroke="none"/>
<clipPath id="cD0"><rect x="43.5" y="210" width="123.5" height="40.4"/></clipPath>
<path d="M46,251.7 C72.27,251.7 98.53,251.7 124.8,251.7 C126.77,251.7 128.73,249.38 130.7,246.9 C131.93,245.35 133.17,242.01 134.4,238.1 C135.37,235.03 136.33,227.91 137.3,224.8 C138.3,221.59 139.3,217.4 140.3,217.4 C141.27,217.4 142.23,220.18 143.2,222.6 C144.2,225.1 145.2,231.18 146.2,235.1 C147.2,239.02 148.2,244.59 149.2,246.2 C150.9,248.93 152.6,250.89 154.3,251.1 C157.67,251.52 161.03,251.5 164.4,251.7" fill="none" stroke="#ff5050" stroke-opacity="0.5" stroke-width="1.1" stroke-linejoin="round"/>
<path d="M46,251.7 C72.27,251.7 98.53,251.7 124.8,251.7 C126.77,251.7 128.73,249.38 130.7,246.9 C131.93,245.35 133.17,242.01 134.4,238.1 C135.37,235.03 136.33,227.91 137.3,224.8 C138.3,221.59 139.3,217.4 140.3,217.4 C141.27,217.4 142.23,220.18 143.2,222.6 C144.2,225.1 145.2,231.18 146.2,235.1 C147.2,239.02 148.2,244.59 149.2,246.2 C150.9,248.93 152.6,250.89 154.3,251.1 C157.67,251.52 161.03,251.5 164.4,251.7" fill="none" stroke="#ff5050" stroke-width="1.3" stroke-linejoin="round" clip-path="url(#cD0)"/>
<clipPath id="cD1"><rect x="43.5" y="210" width="123.5" height="59"/></clipPath>
<path d="M46,270.3 C72.77,270.3 99.53,270.3 126.3,270.3 C128.27,270.3 130.23,269.57 132.2,268.4 C133.43,267.66 134.67,263.58 135.9,260.2 C137.13,256.82 138.37,250.1 139.6,246.9 C141.07,243.1 142.53,238.1 144,238.1 C145.23,238.1 146.47,242.78 147.7,246.2 C148.93,249.62 150.17,257.45 151.4,260.2 C153.37,264.59 155.33,268.49 157.3,269.1 C159.67,269.84 162.03,269.9 164.4,270.3" fill="none" stroke="#ffa048" stroke-opacity="0.5" stroke-width="1.1" stroke-linejoin="round"/>
<path d="M46,270.3 C72.77,270.3 99.53,270.3 126.3,270.3 C128.27,270.3 130.23,269.57 132.2,268.4 C133.43,267.66 134.67,263.58 135.9,260.2 C137.13,256.82 138.37,250.1 139.6,246.9 C141.07,243.1 142.53,238.1 144,238.1 C145.23,238.1 146.47,242.78 147.7,246.2 C148.93,249.62 150.17,257.45 151.4,260.2 C153.37,264.59 155.33,268.49 157.3,269.1 C159.67,269.84 162.03,269.9 164.4,270.3" fill="none" stroke="#ffa048" stroke-width="1.3" stroke-linejoin="round" clip-path="url(#cD1)"/>
<clipPath id="cD2"><rect x="43.5" y="210" width="123.5" height="77.4"/></clipPath>
<path d="M46,288.7 C73.33,288.7 100.67,288.7 128,288.7 C129.4,288.7 130.8,287.17 132.2,285.6 C133.67,283.96 135.13,279.59 136.6,275.2 C137.83,271.51 139.07,263.07 140.3,260.4 C141.43,257.94 142.57,255.3 143.7,255.3 C144.77,255.3 145.83,259.07 146.9,261.9 C148.13,265.18 149.37,272.59 150.6,276 C152.33,280.79 154.07,286.33 155.8,287 C158.67,288.11 161.53,288.13 164.4,288.7" fill="none" stroke="#e6de30" stroke-opacity="0.5" stroke-width="1.1" stroke-linejoin="round"/>
<path d="M46,288.7 C73.33,288.7 100.67,288.7 128,288.7 C129.4,288.7 130.8,287.17 132.2,285.6 C133.67,283.96 135.13,279.59 136.6,275.2 C137.83,271.51 139.07,263.07 140.3,260.4 C141.43,257.94 142.57,255.3 143.7,255.3 C144.77,255.3 145.83,259.07 146.9,261.9 C148.13,265.18 149.37,272.59 150.6,276 C152.33,280.79 154.07,286.33 155.8,287 C158.67,288.11 161.53,288.13 164.4,288.7" fill="none" stroke="#e6de30" stroke-width="1.3" stroke-linejoin="round" clip-path="url(#cD2)"/>
<clipPath id="cD3"><rect x="43.5" y="210" width="123.5" height="95.5"/></clipPath>
<path d="M46,306.8 C61.27,306.8 76.53,306.8 91.8,306.8 C94.23,306.8 96.67,306.61 99.1,306.3 C101.03,306.05 102.97,304.15 104.9,302.2 C106.6,300.49 108.3,297.17 110,293.5 C111.2,290.91 112.4,285.04 113.6,283.3 C114.57,281.9 115.53,281.5 116.5,280.4 C118.1,278.57 119.7,273.8 121.3,273.8 C122.37,273.8 123.43,276.64 124.5,278.2 C125.73,280 126.97,282.76 128.2,284 C129.17,284.97 130.13,285.25 131.1,286.2 C132.57,287.64 134.03,290.49 135.5,292.7 C136.93,294.86 138.37,297.35 139.8,299.3 C141.73,301.93 143.67,306.18 145.6,306.3 C151.87,306.69 158.13,306.63 164.4,306.8" fill="none" stroke="#28bb30" stroke-opacity="0.5" stroke-width="1.1" stroke-linejoin="round"/>
<path d="M46,306.8 C61.27,306.8 76.53,306.8 91.8,306.8 C94.23,306.8 96.67,306.61 99.1,306.3 C101.03,306.05 102.97,304.15 104.9,302.2 C106.6,300.49 108.3,297.17 110,293.5 C111.2,290.91 112.4,285.04 113.6,283.3 C114.57,281.9 115.53,281.5 116.5,280.4 C118.1,278.57 119.7,273.8 121.3,273.8 C122.37,273.8 123.43,276.64 124.5,278.2 C125.73,280 126.97,282.76 128.2,284 C129.17,284.97 130.13,285.25 131.1,286.2 C132.57,287.64 134.03,290.49 135.5,292.7 C136.93,294.86 138.37,297.35 139.8,299.3 C141.73,301.93 143.67,306.18 145.6,306.3 C151.87,306.69 158.13,306.63 164.4,306.8" fill="none" stroke="#28bb30" stroke-width="1.3" stroke-linejoin="round" clip-path="url(#cD3)"/>
<clipPath id="cD4"><rect x="43.5" y="210" width="123.5" height="114.2"/></clipPath>
<path d="M46,325.5 C56.9,325.5 67.8,325.5 78.7,325.5 C80.4,325.5 82.1,324.1 83.8,323.3 C85.03,322.72 86.27,321.4 87.5,321.4 C88.93,321.4 90.37,322.8 91.8,322.8 C93.5,322.8 95.2,322.41 96.9,321.8 C98.37,321.27 99.83,317.14 101.3,313.8 C102.73,310.53 104.17,303.55 105.6,300.7 C107.2,297.52 108.8,293.7 110.4,293.7 C111.97,293.7 113.53,299.05 115.1,302.2 C116.8,305.62 118.5,311.05 120.2,313.8 C122.37,317.3 124.53,320.49 126.7,321.8 C129.13,323.28 131.57,324.55 134,324.7 C144.13,325.31 154.27,325.23 164.4,325.5" fill="none" stroke="#3a9cf2" stroke-opacity="0.5" stroke-width="1.1" stroke-linejoin="round"/>
<path d="M46,325.5 C56.9,325.5 67.8,325.5 78.7,325.5 C80.4,325.5 82.1,324.1 83.8,323.3 C85.03,322.72 86.27,321.4 87.5,321.4 C88.93,321.4 90.37,322.8 91.8,322.8 C93.5,322.8 95.2,322.41 96.9,321.8 C98.37,321.27 99.83,317.14 101.3,313.8 C102.73,310.53 104.17,303.55 105.6,300.7 C107.2,297.52 108.8,293.7 110.4,293.7 C111.97,293.7 113.53,299.05 115.1,302.2 C116.8,305.62 118.5,311.05 120.2,313.8 C122.37,317.3 124.53,320.49 126.7,321.8 C129.13,323.28 131.57,324.55 134,324.7 C144.13,325.31 154.27,325.23 164.4,325.5" fill="none" stroke="#3a9cf2" stroke-width="1.3" stroke-linejoin="round" clip-path="url(#cD4)"/>
<rect x="45.5" y="215" width="119.5" height="111" fill="none" stroke="#3a3a3a" stroke-width="1.2" />
<line x1="56.5" y1="326" x2="56.5" y2="328.2" stroke="#444" stroke-width="0.7" />
<line x1="63.64" y1="326" x2="63.64" y2="328.2" stroke="#444" stroke-width="0.7" />
<line x1="65.35" y1="326" x2="65.35" y2="328.2" stroke="#444" stroke-width="0.7" />
<line x1="66.83" y1="326" x2="66.83" y2="328.2" stroke="#444" stroke-width="0.7" />
<line x1="68.13" y1="326" x2="68.13" y2="328.2" stroke="#444" stroke-width="0.7" />
<line x1="69.3" y1="326" x2="69.3" y2="328.2" stroke="#444" stroke-width="0.7" />
<line x1="76.98" y1="326" x2="76.98" y2="328.2" stroke="#444" stroke-width="0.7" />
<line x1="81.47" y1="326" x2="81.47" y2="328.2" stroke="#444" stroke-width="0.7" />
<line x1="84.65" y1="326" x2="84.65" y2="328.2" stroke="#444" stroke-width="0.7" />
<line x1="87.12" y1="326" x2="87.12" y2="328.2" stroke="#444" stroke-width="0.7" />
<line x1="89.14" y1="326" x2="89.14" y2="328.2" stroke="#444" stroke-width="0.7" />
<line x1="90.85" y1="326" x2="90.85" y2="328.2" stroke="#444" stroke-width="0.7" />
<line x1="92.33" y1="326" x2="92.33" y2="328.2" stroke="#444" stroke-width="0.7" />
<line x1="93.63" y1="326" x2="93.63" y2="328.2" stroke="#444" stroke-width="0.7" />
<line x1="94.8" y1="326" x2="94.8" y2="328.2" stroke="#444" stroke-width="0.7" />
<line x1="102.48" y1="326" x2="102.48" y2="328.2" stroke="#444" stroke-width="0.7" />
<line x1="106.97" y1="326" x2="106.97" y2="328.2" stroke="#444" stroke-width="0.7" />
<line x1="110.15" y1="326" x2="110.15" y2="328.2" stroke="#444" stroke-width="0.7" />
<line x1="112.62" y1="326" x2="112.62" y2="328.2" stroke="#444" stroke-width="0.7" />
<line x1="114.64" y1="326" x2="114.64" y2="328.2" stroke="#444" stroke-width="0.7" />
<line x1="116.35" y1="326" x2="116.35" y2="328.2" stroke="#444" stroke-width="0.7" />
<line x1="117.83" y1="326" x2="117.83" y2="328.2" stroke="#444" stroke-width="0.7" />
<line x1="119.13" y1="326" x2="119.13" y2="328.2" stroke="#444" stroke-width="0.7" />
<line x1="120.3" y1="326" x2="120.3" y2="328.2" stroke="#444" stroke-width="0.7" />
<line x1="127.98" y1="326" x2="127.98" y2="328.2" stroke="#444" stroke-width="0.7" />
<line x1="132.47" y1="326" x2="132.47" y2="328.2" stroke="#444" stroke-width="0.7" />
<line x1="135.65" y1="326" x2="135.65" y2="328.2" stroke="#444" stroke-width="0.7" />
<line x1="138.12" y1="326" x2="138.12" y2="328.2" stroke="#444" stroke-width="0.7" />
<line x1="140.14" y1="326" x2="140.14" y2="328.2" stroke="#444" stroke-width="0.7" />
<line x1="141.85" y1="326" x2="141.85" y2="328.2" stroke="#444" stroke-width="0.7" />
<line x1="143.33" y1="326" x2="143.33" y2="328.2" stroke="#444" stroke-width="0.7" />
<line x1="144.63" y1="326" x2="144.63" y2="328.2" stroke="#444" stroke-width="0.7" />
<line x1="145.8" y1="326" x2="145.8" y2="328.2" stroke="#444" stroke-width="0.7" />
<line x1="153.48" y1="326" x2="153.48" y2="328.2" stroke="#444" stroke-width="0.7" />
<line x1="157.97" y1="326" x2="157.97" y2="328.2" stroke="#444" stroke-width="0.7" />
<line x1="161.15" y1="326" x2="161.15" y2="328.2" stroke="#444" stroke-width="0.7" />
<line x1="163.62" y1="326" x2="163.62" y2="328.2" stroke="#444" stroke-width="0.7" />
<line x1="134.8" y1="215" x2="134.8" y2="330" stroke="#111" stroke-width="2" stroke-dasharray="3.5,2"/>
<ellipse cx="165" cy="240.2" rx="8.3" ry="7.9" fill="#fff" stroke="#111" stroke-width="1.6"/>
<text x="165" y="244.1" font-size="11.2" fill="#111" text-anchor="middle" font-weight="bold" stroke="#111" stroke-width="0.3" >74</text>
<ellipse cx="165" cy="259.1" rx="8.3" ry="7.9" fill="#fff" stroke="#111" stroke-width="1.6"/>
<text x="165" y="263" font-size="11.2" fill="#111" text-anchor="middle" font-weight="bold" stroke="#111" stroke-width="0.3" >89</text>
<ellipse cx="165" cy="278.5" rx="8.3" ry="7.9" fill="#fff" stroke="#111" stroke-width="1.6"/>
<text x="165" y="282.4" font-size="11.2" fill="#111" text-anchor="middle" font-weight="bold" stroke="#111" stroke-width="0.3" >84</text>
<ellipse cx="165" cy="297.2" rx="8.3" ry="7.9" fill="#fff" stroke="#111" stroke-width="1.6"/>
<text x="165" y="301.1" font-size="11.2" fill="#111" text-anchor="middle" font-weight="bold" stroke="#111" stroke-width="0.3" >6</text>
<ellipse cx="165" cy="316.5" rx="8.3" ry="7.9" fill="#fff" stroke="#111" stroke-width="1.6"/>
<text x="165" y="320.4" font-size="11.2" fill="#111" text-anchor="middle" font-weight="bold" stroke="#111" stroke-width="0.3" >0</text>
<text x="49.6" y="232.8" font-size="14.5" fill="#111" text-anchor="start" font-weight="bold" stroke="#111" stroke-width="0.3" >D</text>
<text x="23.3" y="226.1" font-size="8.8" fill="#111" text-anchor="start" font-weight="bold" stroke="#111" stroke-width="0.3" textLength="18.5" lengthAdjust="spacingAndGlyphs" >ROT</text>
<text x="23" y="236.3" font-size="8.8" fill="#111" text-anchor="start" font-weight="bold" stroke="#111" stroke-width="0.3" textLength="19.1" lengthAdjust="spacingAndGlyphs" >(µM)</text>
<text x="31.7" y="253.3" font-size="9.6" fill="#111" text-anchor="middle" font-weight="bold" stroke="#111" stroke-width="0.3" >50</text>
<text x="31.7" y="272.6" font-size="9.6" fill="#111" text-anchor="middle" font-weight="bold" stroke="#111" stroke-width="0.3" >10</text>
<text x="31.7" y="291.5" font-size="9.6" fill="#111" text-anchor="middle" font-weight="bold" stroke="#111" stroke-width="0.3" >5</text>
<text x="31.7" y="307.7" font-size="9.6" fill="#111" text-anchor="middle" font-weight="bold" stroke="#111" stroke-width="0.3" >1</text>
<text x="31.7" y="323.7" font-size="9.6" fill="#111" text-anchor="middle" font-weight="bold" stroke="#111" stroke-width="0.3" >0</text>
<text x="54.4" y="344.6" font-size="7.9" fill="#111" text-anchor="start" font-weight="bold" stroke="#111" stroke-width="0.3" textLength="4.2" lengthAdjust="spacingAndGlyphs" >0</text>
<text x="65.4" y="344.6" font-size="7.9" fill="#111" text-anchor="start" font-weight="bold" stroke="#111" stroke-width="0.3" textLength="8" lengthAdjust="spacingAndGlyphs" >10</text>
<text x="73.8" y="339.6" font-size="7.4" fill="#111" text-anchor="start" font-weight="bold" stroke="#111" stroke-width="0.3" textLength="3.8" lengthAdjust="spacingAndGlyphs" >2</text>
<text x="90.9" y="344.6" font-size="7.9" fill="#111" text-anchor="start" font-weight="bold" stroke="#111" stroke-width="0.3" textLength="8" lengthAdjust="spacingAndGlyphs" >10</text>
<text x="99.3" y="339.6" font-size="7.4" fill="#111" text-anchor="start" font-weight="bold" stroke="#111" stroke-width="0.3" textLength="3.8" lengthAdjust="spacingAndGlyphs" >3</text>
<text x="117.1" y="344.6" font-size="7.9" fill="#111" text-anchor="start" font-weight="bold" stroke="#111" stroke-width="0.3" textLength="8" lengthAdjust="spacingAndGlyphs" >10</text>
<text x="125.5" y="339.6" font-size="7.4" fill="#111" text-anchor="start" font-weight="bold" stroke="#111" stroke-width="0.3" textLength="3.8" lengthAdjust="spacingAndGlyphs" >4</text>
<text x="141.3" y="344.6" font-size="7.9" fill="#111" text-anchor="start" font-weight="bold" stroke="#111" stroke-width="0.3" textLength="8" lengthAdjust="spacingAndGlyphs" >10</text>
<text x="149.7" y="339.6" font-size="7.4" fill="#111" text-anchor="start" font-weight="bold" stroke="#111" stroke-width="0.3" textLength="3.8" lengthAdjust="spacingAndGlyphs" >5</text>
<line x1="127.8" y1="349.8" x2="160.1" y2="349.8" stroke="#111" stroke-width="1.5" />
<line x1="127.8" y1="347.3" x2="127.8" y2="352.3" stroke="#111" stroke-width="1.2" />
<line x1="160.1" y1="347.3" x2="160.1" y2="352.3" stroke="#111" stroke-width="1.2" />
<text x="124.7" y="363.4" font-size="8.6" fill="#111" text-anchor="start" font-weight="bold" stroke="#111" stroke-width="0.3" textLength="37.4" lengthAdjust="spacingAndGlyphs" >DCF High</text>
<path d="M184.6,252.6 C202.27,252.6 219.93,252.6 237.6,252.6 C239.73,252.6 241.87,251.66 244,250.7 C245.7,249.93 247.4,248.26 249.1,246.3 C250.8,244.34 252.5,240.6 254.2,237.4 C255.47,235.02 256.73,231.75 258,229.7 C259.27,227.65 260.53,226.82 261.8,224.6 C262.43,223.49 263.07,220.2 263.7,220.2 C264.33,220.2 264.97,223.36 265.6,224.6 C266.9,227.15 268.2,228.84 269.5,231 C270.77,233.11 272.03,235.08 273.3,237.4 C274.57,239.72 275.83,242.97 277.1,245 C278.37,247.03 279.63,249.34 280.9,250.1 C283.03,251.37 285.17,252.34 287.3,252.4 C293,252.55 298.7,252.53 304.4,252.6 L304.4,252.6 L184.6,252.6 Z" fill="rgba(255,80,80,0.09)" stroke="none"/>
<path d="M184.6,270.5 C207.37,270.5 230.13,270.5 252.9,270.5 C254.6,270.5 256.3,269.69 258,268.6 C259.27,267.79 260.53,265.09 261.8,261.6 C262.67,259.21 263.53,252.14 264.4,248.9 C265.23,245.78 266.07,242.67 266.9,241.3 C267.53,240.26 268.17,239.1 268.8,239.1 C269.87,239.1 270.93,240.12 272,241.3 C273.07,242.48 274.13,247.03 275.2,250.2 C276.27,253.37 277.33,258.17 278.4,260.4 C280.1,263.95 281.8,266.91 283.5,268 C285.6,269.34 287.7,270.5 289.8,270.5 C294.67,270.5 299.53,270.5 304.4,270.5 L304.4,270.5 L184.6,270.5 Z" fill="rgba(255,160,70,0.08)" stroke="none"/>
<path d="M184.6,288.8 C206.63,288.8 228.67,288.8 250.7,288.8 C252.43,288.8 254.17,287.72 255.9,286.3 C257.13,285.29 258.37,281.63 259.6,278.1 C260.6,275.24 261.6,269.95 262.6,266.3 C263.47,263.13 264.33,257.98 265.2,257.4 C265.8,257 266.4,256.7 267,256.7 C267.6,256.7 268.2,257.36 268.8,258.1 C269.67,259.17 270.53,264.7 271.4,267.8 C272.4,271.38 273.4,275.64 274.4,278.1 C275.87,281.71 277.33,285.27 278.8,286.3 C280.8,287.71 282.8,288.8 284.8,288.8 C291.33,288.8 297.87,288.8 304.4,288.8 L304.4,288.8 L184.6,288.8 Z" fill="rgba(230,225,40,0.09)" stroke="none"/>
<path d="M184.6,306.5 C207.13,306.5 229.67,306.5 252.2,306.5 C254.67,306.5 257.13,305.94 259.6,304.8 C260.83,304.23 262.07,299.79 263.3,295.9 C264.3,292.75 265.3,285.83 266.3,282.6 C267.27,279.47 268.23,275.2 269.2,275.2 C270.2,275.2 271.2,277.18 272.2,278.9 C273.43,281.03 274.67,286.5 275.9,290 C277.37,294.16 278.83,300.47 280.3,301.8 C283.27,304.49 286.23,306.08 289.2,306.2 C294.27,306.41 299.33,306.4 304.4,306.5 L304.4,306.5 L184.6,306.5 Z" fill="rgba(40,180,60,0.08)" stroke="none"/>
<path d="M184.6,325 C202.2,325 219.8,325 237.4,325 C239.87,325 242.33,323.38 244.8,321.3 C246.27,320.06 247.73,315.84 249.2,312.5 C250.7,309.09 252.2,304.25 253.7,300.6 C254.67,298.25 255.63,294.96 256.6,294 C257.37,293.24 258.13,292.5 258.9,292.5 C259.63,292.5 260.37,293.25 261.1,294 C262.33,295.27 263.57,300.12 264.8,303.6 C265.77,306.33 266.73,309.72 267.7,312.5 C268.7,315.37 269.7,319.41 270.7,320.6 C272.43,322.66 274.17,324.04 275.9,324.3 C278.93,324.75 281.97,325 285,325 C291.47,325 297.93,325 304.4,325 L304.4,325 L184.6,325 Z" fill="rgba(60,150,230,0.12)" stroke="none"/>
<clipPath id="cE0"><rect x="182" y="211" width="125" height="40.3"/></clipPath>
<path d="M184.6,252.6 C202.27,252.6 219.93,252.6 237.6,252.6 C239.73,252.6 241.87,251.66 244,250.7 C245.7,249.93 247.4,248.26 249.1,246.3 C250.8,244.34 252.5,240.6 254.2,237.4 C255.47,235.02 256.73,231.75 258,229.7 C259.27,227.65 260.53,226.82 261.8,224.6 C262.43,223.49 263.07,220.2 263.7,220.2 C264.33,220.2 264.97,223.36 265.6,224.6 C266.9,227.15 268.2,228.84 269.5,231 C270.77,233.11 272.03,235.08 273.3,237.4 C274.57,239.72 275.83,242.97 277.1,245 C278.37,247.03 279.63,249.34 280.9,250.1 C283.03,251.37 285.17,252.34 287.3,252.4 C293,252.55 298.7,252.53 304.4,252.6" fill="none" stroke="#ff5050" stroke-opacity="0.5" stroke-width="1.1" stroke-linejoin="round"/>
<path d="M184.6,252.6 C202.27,252.6 219.93,252.6 237.6,252.6 C239.73,252.6 241.87,251.66 244,250.7 C245.7,249.93 247.4,248.26 249.1,246.3 C250.8,244.34 252.5,240.6 254.2,237.4 C255.47,235.02 256.73,231.75 258,229.7 C259.27,227.65 260.53,226.82 261.8,224.6 C262.43,223.49 263.07,220.2 263.7,220.2 C264.33,220.2 264.97,223.36 265.6,224.6 C266.9,227.15 268.2,228.84 269.5,231 C270.77,233.11 272.03,235.08 273.3,237.4 C274.57,239.72 275.83,242.97 277.1,245 C278.37,247.03 279.63,249.34 280.9,250.1 C283.03,251.37 285.17,252.34 287.3,252.4 C293,252.55 298.7,252.53 304.4,252.6" fill="none" stroke="#ff5050" stroke-width="1.3" stroke-linejoin="round" clip-path="url(#cE0)"/>
<clipPath id="cE1"><rect x="182" y="211" width="125" height="58.2"/></clipPath>
<path d="M184.6,270.5 C207.37,270.5 230.13,270.5 252.9,270.5 C254.6,270.5 256.3,269.69 258,268.6 C259.27,267.79 260.53,265.09 261.8,261.6 C262.67,259.21 263.53,252.14 264.4,248.9 C265.23,245.78 266.07,242.67 266.9,241.3 C267.53,240.26 268.17,239.1 268.8,239.1 C269.87,239.1 270.93,240.12 272,241.3 C273.07,242.48 274.13,247.03 275.2,250.2 C276.27,253.37 277.33,258.17 278.4,260.4 C280.1,263.95 281.8,266.91 283.5,268 C285.6,269.34 287.7,270.5 289.8,270.5 C294.67,270.5 299.53,270.5 304.4,270.5" fill="none" stroke="#ffa048" stroke-opacity="0.5" stroke-width="1.1" stroke-linejoin="round"/>
<path d="M184.6,270.5 C207.37,270.5 230.13,270.5 252.9,270.5 C254.6,270.5 256.3,269.69 258,268.6 C259.27,267.79 260.53,265.09 261.8,261.6 C262.67,259.21 263.53,252.14 264.4,248.9 C265.23,245.78 266.07,242.67 266.9,241.3 C267.53,240.26 268.17,239.1 268.8,239.1 C269.87,239.1 270.93,240.12 272,241.3 C273.07,242.48 274.13,247.03 275.2,250.2 C276.27,253.37 277.33,258.17 278.4,260.4 C280.1,263.95 281.8,266.91 283.5,268 C285.6,269.34 287.7,270.5 289.8,270.5 C294.67,270.5 299.53,270.5 304.4,270.5" fill="none" stroke="#ffa048" stroke-width="1.3" stroke-linejoin="round" clip-path="url(#cE1)"/>
<clipPath id="cE2"><rect x="182" y="211" width="125" height="76.5"/></clipPath>
<path d="M184.6,288.8 C206.63,288.8 228.67,288.8 250.7,288.8 C252.43,288.8 254.17,287.72 255.9,286.3 C257.13,285.29 258.37,281.63 259.6,278.1 C260.6,275.24 261.6,269.95 262.6,266.3 C263.47,263.13 264.33,257.98 265.2,257.4 C265.8,257 266.4,256.7 267,256.7 C267.6,256.7 268.2,257.36 268.8,258.1 C269.67,259.17 270.53,264.7 271.4,267.8 C272.4,271.38 273.4,275.64 274.4,278.1 C275.87,281.71 277.33,285.27 278.8,286.3 C280.8,287.71 282.8,288.8 284.8,288.8 C291.33,288.8 297.87,288.8 304.4,288.8" fill="none" stroke="#e6de30" stroke-opacity="0.5" stroke-width="1.1" stroke-linejoin="round"/>
<path d="M184.6,288.8 C206.63,288.8 228.67,288.8 250.7,288.8 C252.43,288.8 254.17,287.72 255.9,286.3 C257.13,285.29 258.37,281.63 259.6,278.1 C260.6,275.24 261.6,269.95 262.6,266.3 C263.47,263.13 264.33,257.98 265.2,257.4 C265.8,257 266.4,256.7 267,256.7 C267.6,256.7 268.2,257.36 268.8,258.1 C269.67,259.17 270.53,264.7 271.4,267.8 C272.4,271.38 273.4,275.64 274.4,278.1 C275.87,281.71 277.33,285.27 278.8,286.3 C280.8,287.71 282.8,288.8 284.8,288.8 C291.33,288.8 297.87,288.8 304.4,288.8" fill="none" stroke="#e6de30" stroke-width="1.3" stroke-linejoin="round" clip-path="url(#cE2)"/>
<clipPath id="cE3"><rect x="182" y="211" width="125" height="94.2"/></clipPath>
<path d="M184.6,306.5 C207.13,306.5 229.67,306.5 252.2,306.5 C254.67,306.5 257.13,305.94 259.6,304.8 C260.83,304.23 262.07,299.79 263.3,295.9 C264.3,292.75 265.3,285.83 266.3,282.6 C267.27,279.47 268.23,275.2 269.2,275.2 C270.2,275.2 271.2,277.18 272.2,278.9 C273.43,281.03 274.67,286.5 275.9,290 C277.37,294.16 278.83,300.47 280.3,301.8 C283.27,304.49 286.23,306.08 289.2,306.2 C294.27,306.41 299.33,306.4 304.4,306.5" fill="none" stroke="#28bb30" stroke-opacity="0.5" stroke-width="1.1" stroke-linejoin="round"/>
<path d="M184.6,306.5 C207.13,306.5 229.67,306.5 252.2,306.5 C254.67,306.5 257.13,305.94 259.6,304.8 C260.83,304.23 262.07,299.79 263.3,295.9 C264.3,292.75 265.3,285.83 266.3,282.6 C267.27,279.47 268.23,275.2 269.2,275.2 C270.2,275.2 271.2,277.18 272.2,278.9 C273.43,281.03 274.67,286.5 275.9,290 C277.37,294.16 278.83,300.47 280.3,301.8 C283.27,304.49 286.23,306.08 289.2,306.2 C294.27,306.41 299.33,306.4 304.4,306.5" fill="none" stroke="#28bb30" stroke-width="1.3" stroke-linejoin="round" clip-path="url(#cE3)"/>
<clipPath id="cE4"><rect x="182" y="211" width="125" height="112.7"/></clipPath>
<path d="M184.6,325 C202.2,325 219.8,325 237.4,325 C239.87,325 242.33,323.38 244.8,321.3 C246.27,320.06 247.73,315.84 249.2,312.5 C250.7,309.09 252.2,304.25 253.7,300.6 C254.67,298.25 255.63,294.96 256.6,294 C257.37,293.24 258.13,292.5 258.9,292.5 C259.63,292.5 260.37,293.25 261.1,294 C262.33,295.27 263.57,300.12 264.8,303.6 C265.77,306.33 266.73,309.72 267.7,312.5 C268.7,315.37 269.7,319.41 270.7,320.6 C272.43,322.66 274.17,324.04 275.9,324.3 C278.93,324.75 281.97,325 285,325 C291.47,325 297.93,325 304.4,325" fill="none" stroke="#3a9cf2" stroke-opacity="0.5" stroke-width="1.1" stroke-linejoin="round"/>
<path d="M184.6,325 C202.2,325 219.8,325 237.4,325 C239.87,325 242.33,323.38 244.8,321.3 C246.27,320.06 247.73,315.84 249.2,312.5 C250.7,309.09 252.2,304.25 253.7,300.6 C254.67,298.25 255.63,294.96 256.6,294 C257.37,293.24 258.13,292.5 258.9,292.5 C259.63,292.5 260.37,293.25 261.1,294 C262.33,295.27 263.57,300.12 264.8,303.6 C265.77,306.33 266.73,309.72 267.7,312.5 C268.7,315.37 269.7,319.41 270.7,320.6 C272.43,322.66 274.17,324.04 275.9,324.3 C278.93,324.75 281.97,325 285,325 C291.47,325 297.93,325 304.4,325" fill="none" stroke="#3a9cf2" stroke-width="1.3" stroke-linejoin="round" clip-path="url(#cE4)"/>
<rect x="184" y="216" width="121" height="110" fill="none" stroke="#3a3a3a" stroke-width="1.2" />
<line x1="194.6" y1="326" x2="194.6" y2="328.2" stroke="#444" stroke-width="0.7" />
<line x1="201.78" y1="326" x2="201.78" y2="328.2" stroke="#444" stroke-width="0.7" />
<line x1="203.5" y1="326" x2="203.5" y2="328.2" stroke="#444" stroke-width="0.7" />
<line x1="205" y1="326" x2="205" y2="328.2" stroke="#444" stroke-width="0.7" />
<line x1="206.32" y1="326" x2="206.32" y2="328.2" stroke="#444" stroke-width="0.7" />
<line x1="207.5" y1="326" x2="207.5" y2="328.2" stroke="#444" stroke-width="0.7" />
<line x1="215.27" y1="326" x2="215.27" y2="328.2" stroke="#444" stroke-width="0.7" />
<line x1="219.81" y1="326" x2="219.81" y2="328.2" stroke="#444" stroke-width="0.7" />
<line x1="223.03" y1="326" x2="223.03" y2="328.2" stroke="#444" stroke-width="0.7" />
<line x1="225.53" y1="326" x2="225.53" y2="328.2" stroke="#444" stroke-width="0.7" />
<line x1="227.58" y1="326" x2="227.58" y2="328.2" stroke="#444" stroke-width="0.7" />
<line x1="229.3" y1="326" x2="229.3" y2="328.2" stroke="#444" stroke-width="0.7" />
<line x1="230.8" y1="326" x2="230.8" y2="328.2" stroke="#444" stroke-width="0.7" />
<line x1="232.12" y1="326" x2="232.12" y2="328.2" stroke="#444" stroke-width="0.7" />
<line x1="233.3" y1="326" x2="233.3" y2="328.2" stroke="#444" stroke-width="0.7" />
<line x1="241.07" y1="326" x2="241.07" y2="328.2" stroke="#444" stroke-width="0.7" />
<line x1="245.61" y1="326" x2="245.61" y2="328.2" stroke="#444" stroke-width="0.7" />
<line x1="248.83" y1="326" x2="248.83" y2="328.2" stroke="#444" stroke-width="0.7" />
<line x1="251.33" y1="326" x2="251.33" y2="328.2" stroke="#444" stroke-width="0.7" />
<line x1="253.38" y1="326" x2="253.38" y2="328.2" stroke="#444" stroke-width="0.7" />
<line x1="255.1" y1="326" x2="255.1" y2="328.2" stroke="#444" stroke-width="0.7" />
<line x1="256.6" y1="326" x2="256.6" y2="328.2" stroke="#444" stroke-width="0.7" />
<line x1="257.92" y1="326" x2="257.92" y2="328.2" stroke="#444" stroke-width="0.7" />
<line x1="259.1" y1="326" x2="259.1" y2="328.2" stroke="#444" stroke-width="0.7" />
<line x1="266.87" y1="326" x2="266.87" y2="328.2" stroke="#444" stroke-width="0.7" />
<line x1="271.41" y1="326" x2="271.41" y2="328.2" stroke="#444" stroke-width="0.7" />
<line x1="274.63" y1="326" x2="274.63" y2="328.2" stroke="#444" stroke-width="0.7" />
<line x1="277.13" y1="326" x2="277.13" y2="328.2" stroke="#444" stroke-width="0.7" />
<line x1="279.18" y1="326" x2="279.18" y2="328.2" stroke="#444" stroke-width="0.7" />
<line x1="280.9" y1="326" x2="280.9" y2="328.2" stroke="#444" stroke-width="0.7" />
<line x1="282.4" y1="326" x2="282.4" y2="328.2" stroke="#444" stroke-width="0.7" />
<line x1="283.72" y1="326" x2="283.72" y2="328.2" stroke="#444" stroke-width="0.7" />
<line x1="284.9" y1="326" x2="284.9" y2="328.2" stroke="#444" stroke-width="0.7" />
<line x1="292.67" y1="326" x2="292.67" y2="328.2" stroke="#444" stroke-width="0.7" />
<line x1="297.21" y1="326" x2="297.21" y2="328.2" stroke="#444" stroke-width="0.7" />
<line x1="300.43" y1="326" x2="300.43" y2="328.2" stroke="#444" stroke-width="0.7" />
<line x1="302.93" y1="326" x2="302.93" y2="328.2" stroke="#444" stroke-width="0.7" />
<line x1="273" y1="219" x2="273" y2="333" stroke="#111" stroke-width="2" stroke-dasharray="3.5,2"/>
<ellipse cx="302.7" cy="240.1" rx="8.3" ry="7.9" fill="#fff" stroke="#111" stroke-width="1.6"/>
<text x="302.7" y="244" font-size="11.2" fill="#111" text-anchor="middle" font-weight="bold" stroke="#111" stroke-width="0.3" >1</text>
<ellipse cx="302.7" cy="258.7" rx="8.3" ry="7.9" fill="#fff" stroke="#111" stroke-width="1.6"/>
<text x="302.7" y="262.6" font-size="11.2" fill="#111" text-anchor="middle" font-weight="bold" stroke="#111" stroke-width="0.3" >4</text>
<ellipse cx="302.7" cy="277.6" rx="8.3" ry="7.9" fill="#fff" stroke="#111" stroke-width="1.6"/>
<text x="302.7" y="281.5" font-size="11.2" fill="#111" text-anchor="middle" font-weight="bold" stroke="#111" stroke-width="0.3" >1</text>
<ellipse cx="302.7" cy="296.8" rx="8.3" ry="7.9" fill="#fff" stroke="#111" stroke-width="1.6"/>
<text x="302.7" y="300.7" font-size="11.2" fill="#111" text-anchor="middle" font-weight="bold" stroke="#111" stroke-width="0.3" >3</text>
<ellipse cx="302.7" cy="316.2" rx="8.3" ry="7.9" fill="#fff" stroke="#111" stroke-width="1.6"/>
<text x="302.7" y="320.1" font-size="11.2" fill="#111" text-anchor="middle" font-weight="bold" stroke="#111" stroke-width="0.3" >0</text>
<text x="194.6" y="233" font-size="14.5" fill="#111" text-anchor="start" font-weight="bold" stroke="#111" stroke-width="0.3" >E</text>
<text x="192.5" y="345.2" font-size="7.9" fill="#111" text-anchor="start" font-weight="bold" stroke="#111" stroke-width="0.3" textLength="4.2" lengthAdjust="spacingAndGlyphs" >0</text>
<text x="203.6" y="345.2" font-size="7.9" fill="#111" text-anchor="start" font-weight="bold" stroke="#111" stroke-width="0.3" textLength="8" lengthAdjust="spacingAndGlyphs" >10</text>
<text x="212" y="340.2" font-size="7.4" fill="#111" text-anchor="start" font-weight="bold" stroke="#111" stroke-width="0.3" textLength="3.8" lengthAdjust="spacingAndGlyphs" >2</text>
<text x="230.7" y="345.2" font-size="7.9" fill="#111" text-anchor="start" font-weight="bold" stroke="#111" stroke-width="0.3" textLength="8" lengthAdjust="spacingAndGlyphs" >10</text>
<text x="239.1" y="340.2" font-size="7.4" fill="#111" text-anchor="start" font-weight="bold" stroke="#111" stroke-width="0.3" textLength="3.8" lengthAdjust="spacingAndGlyphs" >3</text>
<text x="256.6" y="345.2" font-size="7.9" fill="#111" text-anchor="start" font-weight="bold" stroke="#111" stroke-width="0.3" textLength="8" lengthAdjust="spacingAndGlyphs" >10</text>
<text x="265" y="340.2" font-size="7.4" fill="#111" text-anchor="start" font-weight="bold" stroke="#111" stroke-width="0.3" textLength="3.8" lengthAdjust="spacingAndGlyphs" >4</text>
<text x="281" y="345.2" font-size="7.9" fill="#111" text-anchor="start" font-weight="bold" stroke="#111" stroke-width="0.3" textLength="8" lengthAdjust="spacingAndGlyphs" >10</text>
<text x="289.4" y="340.2" font-size="7.4" fill="#111" text-anchor="start" font-weight="bold" stroke="#111" stroke-width="0.3" textLength="3.8" lengthAdjust="spacingAndGlyphs" >5</text>
<line x1="269.6" y1="350" x2="302.6" y2="350" stroke="#111" stroke-width="1.5" />
<line x1="269.6" y1="347.5" x2="269.6" y2="352.5" stroke="#111" stroke-width="1.2" />
<line x1="302.6" y1="347.5" x2="302.6" y2="352.5" stroke="#111" stroke-width="1.2" />
<text x="267.3" y="364.6" font-size="8.6" fill="#111" text-anchor="start" font-weight="bold" stroke="#111" stroke-width="0.3" textLength="37.4" lengthAdjust="spacingAndGlyphs" >DCF High</text>
<path d="M48.6,410.5 C49.23,408.5 49.87,404.5 50.5,404.5 C51.73,404.5 52.97,409.62 54.2,410.5 C56.3,412 58.4,413.2 60.5,413.2 C63.53,413.2 66.57,413.2 69.6,413.2 C71.13,413.2 72.67,411.5 74.2,409.5 C75.4,407.94 76.6,401.81 77.8,398.6 C79.33,394.5 80.87,391.48 82.4,387.7 C83.47,385.07 84.53,379.5 85.6,379.5 C86.63,379.5 87.67,388.93 88.7,391.4 C89.93,394.34 91.17,396.27 92.4,397.7 C94.2,399.79 96,402.3 97.8,402.3 C99.03,402.3 100.27,399 101.5,399 C102.4,399 103.3,402.04 104.2,402.3 C106.3,402.9 108.4,402.78 110.5,403.2 C112.33,403.57 114.17,404.22 116,405 C117.5,405.64 119,406.75 120.5,407.7 C122.33,408.86 124.17,410.65 126,411.4 C128.43,412.4 130.87,413.47 133.3,413.5 C146.83,413.67 160.37,413.63 173.9,413.7 L173.9,413.7 L48.6,413.7 Z" fill="rgba(255,80,80,0.09)" stroke="none"/>
<path d="M48.6,427.7 C49.57,428.93 50.53,431.09 51.5,431.4 C54.5,432.36 57.5,432.8 60.5,432.8 C63.53,432.8 66.57,432.68 69.6,432.3 C70.83,432.15 72.07,424.91 73.3,420.5 C74.5,416.21 75.7,408.44 76.9,405.9 C78.43,402.66 79.97,399.5 81.5,399.5 C82.7,399.5 83.9,404.92 85.1,407.7 C86.9,411.88 88.7,419.31 90.5,420.5 C92.03,421.51 93.57,422.3 95.1,422.3 C96.6,422.3 98.1,418.6 99.6,418.6 C101.73,418.6 103.87,422.41 106,423.2 C108.43,424.1 110.87,424.09 113.3,425 C115.7,425.9 118.1,429.3 120.5,430.5 C122.93,431.71 125.37,433.2 127.8,433.2 C143.17,433.2 158.53,433.2 173.9,433.2 L173.9,433.2 L48.6,433.2 Z" fill="rgba(255,160,70,0.08)" stroke="none"/>
<path d="M48.6,450.7 C51.37,450.67 54.13,450.65 56.9,450.6 C60.53,450.53 64.17,450.31 67.8,450 C69.63,449.85 71.47,449.75 73.3,449.2 C74.5,448.84 75.7,437.06 76.9,431.8 C77.8,427.86 78.7,422.47 79.6,420.9 C80.4,419.51 81.2,418.2 82,418.2 C83.03,418.2 84.07,423.03 85.1,425.5 C86.6,429.08 88.1,434.04 89.6,436.4 C91.43,439.29 93.27,441.46 95.1,442.7 C96.3,443.51 97.5,444.5 98.7,444.5 C100.53,444.5 102.37,442.14 104.2,441.8 C106.93,441.29 109.67,440.9 112.4,440.9 C113.9,440.9 115.4,444.81 116.9,446.4 C118.73,448.34 120.57,451.17 122.4,451.5 C124.8,451.94 127.2,452.2 129.6,452.2 C144.37,452.2 159.13,452.2 173.9,452.2 L173.9,452.2 L48.6,452.2 Z" fill="rgba(230,225,40,0.09)" stroke="none"/>
<path d="M48.6,469.6 C53.8,469.73 59,470 64.2,470 C66,470 67.8,469.44 69.6,468.2 C70.53,467.56 71.47,459.07 72.4,453.6 C73,450.09 73.6,443.64 74.2,441.8 C74.8,439.96 75.4,438.2 76,438.2 C76.9,438.2 77.8,445.05 78.7,447.3 C79.93,450.39 81.17,452.83 82.4,454.5 C83.9,456.53 85.4,458.51 86.9,459.1 C88.1,459.57 89.3,460 90.5,460 C92.03,460 93.57,458.08 95.1,456.4 C96.6,454.76 98.1,448.2 99.6,448.2 C100.83,448.2 102.07,451.25 103.3,453.6 C104.8,456.46 106.3,465.06 107.8,466.4 C110.23,468.57 112.67,469.83 115.1,470 C119.93,470.34 124.77,470.42 129.6,470.5 C144.37,470.73 159.13,470.77 173.9,470.9 L173.9,470.9 L48.6,470.9 Z" fill="rgba(40,180,60,0.08)" stroke="none"/>
<path d="M48.6,490.9 C51.37,490.9 54.13,490.9 56.9,490.9 C58.73,490.9 60.57,490.06 62.4,489.1 C63.3,488.63 64.2,488.09 65.1,486.4 C65.7,485.27 66.3,476.6 66.9,471.8 C67.5,467 68.1,457.6 68.7,457.6 C69.3,457.6 69.9,465.22 70.5,468.2 C71.43,472.84 72.37,479.09 73.3,480 C75.1,481.76 76.9,482.7 78.7,482.7 C80.23,482.7 81.77,482.7 83.3,482.7 C84.5,482.7 85.7,480 86.9,480 C88.1,480 89.3,482.4 90.5,483.6 C92.03,485.13 93.57,487.72 95.1,488.2 C98.73,489.34 102.37,489.89 106,490 C128.63,490.7 151.27,490.6 173.9,490.9 L173.9,490.9 L48.6,490.9 Z" fill="rgba(60,150,230,0.12)" stroke="none"/>
<clipPath id="cG0"><rect x="46" y="371.7" width="130.5" height="40.7"/></clipPath>
<path d="M48.6,410.5 C49.23,408.5 49.87,404.5 50.5,404.5 C51.73,404.5 52.97,409.62 54.2,410.5 C56.3,412 58.4,413.2 60.5,413.2 C63.53,413.2 66.57,413.2 69.6,413.2 C71.13,413.2 72.67,411.5 74.2,409.5 C75.4,407.94 76.6,401.81 77.8,398.6 C79.33,394.5 80.87,391.48 82.4,387.7 C83.47,385.07 84.53,379.5 85.6,379.5 C86.63,379.5 87.67,388.93 88.7,391.4 C89.93,394.34 91.17,396.27 92.4,397.7 C94.2,399.79 96,402.3 97.8,402.3 C99.03,402.3 100.27,399 101.5,399 C102.4,399 103.3,402.04 104.2,402.3 C106.3,402.9 108.4,402.78 110.5,403.2 C112.33,403.57 114.17,404.22 116,405 C117.5,405.64 119,406.75 120.5,407.7 C122.33,408.86 124.17,410.65 126,411.4 C128.43,412.4 130.87,413.47 133.3,413.5 C146.83,413.67 160.37,413.63 173.9,413.7" fill="none" stroke="#ff5050" stroke-opacity="0.5" stroke-width="1.1" stroke-linejoin="round"/>
<path d="M48.6,410.5 C49.23,408.5 49.87,404.5 50.5,404.5 C51.73,404.5 52.97,409.62 54.2,410.5 C56.3,412 58.4,413.2 60.5,413.2 C63.53,413.2 66.57,413.2 69.6,413.2 C71.13,413.2 72.67,411.5 74.2,409.5 C75.4,407.94 76.6,401.81 77.8,398.6 C79.33,394.5 80.87,391.48 82.4,387.7 C83.47,385.07 84.53,379.5 85.6,379.5 C86.63,379.5 87.67,388.93 88.7,391.4 C89.93,394.34 91.17,396.27 92.4,397.7 C94.2,399.79 96,402.3 97.8,402.3 C99.03,402.3 100.27,399 101.5,399 C102.4,399 103.3,402.04 104.2,402.3 C106.3,402.9 108.4,402.78 110.5,403.2 C112.33,403.57 114.17,404.22 116,405 C117.5,405.64 119,406.75 120.5,407.7 C122.33,408.86 124.17,410.65 126,411.4 C128.43,412.4 130.87,413.47 133.3,413.5 C146.83,413.67 160.37,413.63 173.9,413.7" fill="none" stroke="#ff5050" stroke-width="1.3" stroke-linejoin="round" clip-path="url(#cG0)"/>
<clipPath id="cG1"><rect x="46" y="371.7" width="130.5" height="60.2"/></clipPath>
<path d="M48.6,427.7 C49.57,428.93 50.53,431.09 51.5,431.4 C54.5,432.36 57.5,432.8 60.5,432.8 C63.53,432.8 66.57,432.68 69.6,432.3 C70.83,432.15 72.07,424.91 73.3,420.5 C74.5,416.21 75.7,408.44 76.9,405.9 C78.43,402.66 79.97,399.5 81.5,399.5 C82.7,399.5 83.9,404.92 85.1,407.7 C86.9,411.88 88.7,419.31 90.5,420.5 C92.03,421.51 93.57,422.3 95.1,422.3 C96.6,422.3 98.1,418.6 99.6,418.6 C101.73,418.6 103.87,422.41 106,423.2 C108.43,424.1 110.87,424.09 113.3,425 C115.7,425.9 118.1,429.3 120.5,430.5 C122.93,431.71 125.37,433.2 127.8,433.2 C143.17,433.2 158.53,433.2 173.9,433.2" fill="none" stroke="#ffa048" stroke-opacity="0.5" stroke-width="1.1" stroke-linejoin="round"/>
<path d="M48.6,427.7 C49.57,428.93 50.53,431.09 51.5,431.4 C54.5,432.36 57.5,432.8 60.5,432.8 C63.53,432.8 66.57,432.68 69.6,432.3 C70.83,432.15 72.07,424.91 73.3,420.5 C74.5,416.21 75.7,408.44 76.9,405.9 C78.43,402.66 79.97,399.5 81.5,399.5 C82.7,399.5 83.9,404.92 85.1,407.7 C86.9,411.88 88.7,419.31 90.5,420.5 C92.03,421.51 93.57,422.3 95.1,422.3 C96.6,422.3 98.1,418.6 99.6,418.6 C101.73,418.6 103.87,422.41 106,423.2 C108.43,424.1 110.87,424.09 113.3,425 C115.7,425.9 118.1,429.3 120.5,430.5 C122.93,431.71 125.37,433.2 127.8,433.2 C143.17,433.2 158.53,433.2 173.9,433.2" fill="none" stroke="#ffa048" stroke-width="1.3" stroke-linejoin="round" clip-path="url(#cG1)"/>
<clipPath id="cG2"><rect x="46" y="371.7" width="130.5" height="79.2"/></clipPath>
<path d="M48.6,450.7 C51.37,450.67 54.13,450.65 56.9,450.6 C60.53,450.53 64.17,450.31 67.8,450 C69.63,449.85 71.47,449.75 73.3,449.2 C74.5,448.84 75.7,437.06 76.9,431.8 C77.8,427.86 78.7,422.47 79.6,420.9 C80.4,419.51 81.2,418.2 82,418.2 C83.03,418.2 84.07,423.03 85.1,425.5 C86.6,429.08 88.1,434.04 89.6,436.4 C91.43,439.29 93.27,441.46 95.1,442.7 C96.3,443.51 97.5,444.5 98.7,444.5 C100.53,444.5 102.37,442.14 104.2,441.8 C106.93,441.29 109.67,440.9 112.4,440.9 C113.9,440.9 115.4,444.81 116.9,446.4 C118.73,448.34 120.57,451.17 122.4,451.5 C124.8,451.94 127.2,452.2 129.6,452.2 C144.37,452.2 159.13,452.2 173.9,452.2" fill="none" stroke="#e6de30" stroke-opacity="0.5" stroke-width="1.1" stroke-linejoin="round"/>
<path d="M48.6,450.7 C51.37,450.67 54.13,450.65 56.9,450.6 C60.53,450.53 64.17,450.31 67.8,450 C69.63,449.85 71.47,449.75 73.3,449.2 C74.5,448.84 75.7,437.06 76.9,431.8 C77.8,427.86 78.7,422.47 79.6,420.9 C80.4,419.51 81.2,418.2 82,418.2 C83.03,418.2 84.07,423.03 85.1,425.5 C86.6,429.08 88.1,434.04 89.6,436.4 C91.43,439.29 93.27,441.46 95.1,442.7 C96.3,443.51 97.5,444.5 98.7,444.5 C100.53,444.5 102.37,442.14 104.2,441.8 C106.93,441.29 109.67,440.9 112.4,440.9 C113.9,440.9 115.4,444.81 116.9,446.4 C118.73,448.34 120.57,451.17 122.4,451.5 C124.8,451.94 127.2,452.2 129.6,452.2 C144.37,452.2 159.13,452.2 173.9,452.2" fill="none" stroke="#e6de30" stroke-width="1.3" stroke-linejoin="round" clip-path="url(#cG2)"/>
<clipPath id="cG3"><rect x="46" y="371.7" width="130.5" height="97.9"/></clipPath>
<path d="M48.6,469.6 C53.8,469.73 59,470 64.2,470 C66,470 67.8,469.44 69.6,468.2 C70.53,467.56 71.47,459.07 72.4,453.6 C73,450.09 73.6,443.64 74.2,441.8 C74.8,439.96 75.4,438.2 76,438.2 C76.9,438.2 77.8,445.05 78.7,447.3 C79.93,450.39 81.17,452.83 82.4,454.5 C83.9,456.53 85.4,458.51 86.9,459.1 C88.1,459.57 89.3,460 90.5,460 C92.03,460 93.57,458.08 95.1,456.4 C96.6,454.76 98.1,448.2 99.6,448.2 C100.83,448.2 102.07,451.25 103.3,453.6 C104.8,456.46 106.3,465.06 107.8,466.4 C110.23,468.57 112.67,469.83 115.1,470 C119.93,470.34 124.77,470.42 129.6,470.5 C144.37,470.73 159.13,470.77 173.9,470.9" fill="none" stroke="#28bb30" stroke-opacity="0.5" stroke-width="1.1" stroke-linejoin="round"/>
<path d="M48.6,469.6 C53.8,469.73 59,470 64.2,470 C66,470 67.8,469.44 69.6,468.2 C70.53,467.56 71.47,459.07 72.4,453.6 C73,450.09 73.6,443.64 74.2,441.8 C74.8,439.96 75.4,438.2 76,438.2 C76.9,438.2 77.8,445.05 78.7,447.3 C79.93,450.39 81.17,452.83 82.4,454.5 C83.9,456.53 85.4,458.51 86.9,459.1 C88.1,459.57 89.3,460 90.5,460 C92.03,460 93.57,458.08 95.1,456.4 C96.6,454.76 98.1,448.2 99.6,448.2 C100.83,448.2 102.07,451.25 103.3,453.6 C104.8,456.46 106.3,465.06 107.8,466.4 C110.23,468.57 112.67,469.83 115.1,470 C119.93,470.34 124.77,470.42 129.6,470.5 C144.37,470.73 159.13,470.77 173.9,470.9" fill="none" stroke="#28bb30" stroke-width="1.3" stroke-linejoin="round" clip-path="url(#cG3)"/>
<clipPath id="cG4"><rect x="46" y="371.7" width="130.5" height="117.9"/></clipPath>
<path d="M48.6,490.9 C51.37,490.9 54.13,490.9 56.9,490.9 C58.73,490.9 60.57,490.06 62.4,489.1 C63.3,488.63 64.2,488.09 65.1,486.4 C65.7,485.27 66.3,476.6 66.9,471.8 C67.5,467 68.1,457.6 68.7,457.6 C69.3,457.6 69.9,465.22 70.5,468.2 C71.43,472.84 72.37,479.09 73.3,480 C75.1,481.76 76.9,482.7 78.7,482.7 C80.23,482.7 81.77,482.7 83.3,482.7 C84.5,482.7 85.7,480 86.9,480 C88.1,480 89.3,482.4 90.5,483.6 C92.03,485.13 93.57,487.72 95.1,488.2 C98.73,489.34 102.37,489.89 106,490 C128.63,490.7 151.27,490.6 173.9,490.9" fill="none" stroke="#3a9cf2" stroke-opacity="0.5" stroke-width="1.1" stroke-linejoin="round"/>
<path d="M48.6,490.9 C51.37,490.9 54.13,490.9 56.9,490.9 C58.73,490.9 60.57,490.06 62.4,489.1 C63.3,488.63 64.2,488.09 65.1,486.4 C65.7,485.27 66.3,476.6 66.9,471.8 C67.5,467 68.1,457.6 68.7,457.6 C69.3,457.6 69.9,465.22 70.5,468.2 C71.43,472.84 72.37,479.09 73.3,480 C75.1,481.76 76.9,482.7 78.7,482.7 C80.23,482.7 81.77,482.7 83.3,482.7 C84.5,482.7 85.7,480 86.9,480 C88.1,480 89.3,482.4 90.5,483.6 C92.03,485.13 93.57,487.72 95.1,488.2 C98.73,489.34 102.37,489.89 106,490 C128.63,490.7 151.27,490.6 173.9,490.9" fill="none" stroke="#3a9cf2" stroke-width="1.3" stroke-linejoin="round" clip-path="url(#cG4)"/>
<rect x="48" y="376.7" width="126.5" height="114.8" fill="none" stroke="#3a3a3a" stroke-width="1.2" />
<line x1="48" y1="491.5" x2="48" y2="493.7" stroke="#444" stroke-width="0.7" />
<line x1="54" y1="491.5" x2="54" y2="493.7" stroke="#444" stroke-width="0.7" />
<line x1="60" y1="491.5" x2="60" y2="493.7" stroke="#444" stroke-width="0.7" />
<line x1="66" y1="491.5" x2="66" y2="493.7" stroke="#444" stroke-width="0.7" />
<line x1="72" y1="491.5" x2="72" y2="493.7" stroke="#444" stroke-width="0.7" />
<line x1="78" y1="491.5" x2="78" y2="493.7" stroke="#444" stroke-width="0.7" />
<line x1="84" y1="491.5" x2="84" y2="493.7" stroke="#444" stroke-width="0.7" />
<line x1="90" y1="491.5" x2="90" y2="493.7" stroke="#444" stroke-width="0.7" />
<line x1="96" y1="491.5" x2="96" y2="493.7" stroke="#444" stroke-width="0.7" />
<line x1="102" y1="491.5" x2="102" y2="493.7" stroke="#444" stroke-width="0.7" />
<line x1="108" y1="491.5" x2="108" y2="493.7" stroke="#444" stroke-width="0.7" />
<line x1="114" y1="491.5" x2="114" y2="493.7" stroke="#444" stroke-width="0.7" />
<line x1="120" y1="491.5" x2="120" y2="493.7" stroke="#444" stroke-width="0.7" />
<line x1="126" y1="491.5" x2="126" y2="493.7" stroke="#444" stroke-width="0.7" />
<line x1="132" y1="491.5" x2="132" y2="493.7" stroke="#444" stroke-width="0.7" />
<line x1="138" y1="491.5" x2="138" y2="493.7" stroke="#444" stroke-width="0.7" />
<line x1="144" y1="491.5" x2="144" y2="493.7" stroke="#444" stroke-width="0.7" />
<line x1="150" y1="491.5" x2="150" y2="493.7" stroke="#444" stroke-width="0.7" />
<line x1="156" y1="491.5" x2="156" y2="493.7" stroke="#444" stroke-width="0.7" />
<line x1="162" y1="491.5" x2="162" y2="493.7" stroke="#444" stroke-width="0.7" />
<line x1="168" y1="491.5" x2="168" y2="493.7" stroke="#444" stroke-width="0.7" />
<line x1="64.2" y1="376.7" x2="64.2" y2="491.5" stroke="#111" stroke-width="2" stroke-dasharray="3.5,2"/>
<ellipse cx="150.2" cy="404.3" rx="8.3" ry="7.9" fill="#fff" stroke="#111" stroke-width="1.6"/>
<text x="150.2" y="408.2" font-size="11.2" fill="#111" text-anchor="middle" font-weight="bold" stroke="#111" stroke-width="0.3" >10</text>
<ellipse cx="150.2" cy="423.6" rx="8.3" ry="7.9" fill="#fff" stroke="#111" stroke-width="1.6"/>
<text x="150.2" y="427.5" font-size="11.2" fill="#111" text-anchor="middle" font-weight="bold" stroke="#111" stroke-width="0.3" >4</text>
<ellipse cx="150.2" cy="442.8" rx="8.3" ry="7.9" fill="#fff" stroke="#111" stroke-width="1.6"/>
<text x="150.2" y="446.7" font-size="11.2" fill="#111" text-anchor="middle" font-weight="bold" stroke="#111" stroke-width="0.3" >3</text>
<ellipse cx="150.2" cy="461.2" rx="8.3" ry="7.9" fill="#fff" stroke="#111" stroke-width="1.6"/>
<text x="150.2" y="465.1" font-size="11.2" fill="#111" text-anchor="middle" font-weight="bold" stroke="#111" stroke-width="0.3" >2</text>
<ellipse cx="150.2" cy="480.4" rx="8.3" ry="7.9" fill="#fff" stroke="#111" stroke-width="1.6"/>
<text x="150.2" y="484.3" font-size="11.2" fill="#111" text-anchor="middle" font-weight="bold" stroke="#111" stroke-width="0.3" >1</text>
<text x="49.8" y="390.8" font-size="14.5" fill="#111" text-anchor="start" font-weight="bold" stroke="#111" stroke-width="0.3" >G</text>
<text x="23.8" y="380.2" font-size="8.8" fill="#111" text-anchor="start" font-weight="bold" stroke="#111" stroke-width="0.3" textLength="18.4" lengthAdjust="spacingAndGlyphs" >ROT</text>
<text x="23.5" y="390.4" font-size="8.8" fill="#111" text-anchor="start" font-weight="bold" stroke="#111" stroke-width="0.3" textLength="19" lengthAdjust="spacingAndGlyphs" >(µM)</text>
<text x="32.2" y="408.3" font-size="9.6" fill="#111" text-anchor="middle" font-weight="bold" stroke="#111" stroke-width="0.3" >50</text>
<text x="32.2" y="427.2" font-size="9.6" fill="#111" text-anchor="middle" font-weight="bold" stroke="#111" stroke-width="0.3" >10</text>
<text x="32.2" y="446.1" font-size="9.6" fill="#111" text-anchor="middle" font-weight="bold" stroke="#111" stroke-width="0.3" >5</text>
<text x="32.2" y="462.7" font-size="9.6" fill="#111" text-anchor="middle" font-weight="bold" stroke="#111" stroke-width="0.3" >1</text>
<text x="32.2" y="478.3" font-size="9.6" fill="#111" text-anchor="middle" font-weight="bold" stroke="#111" stroke-width="0.3" >0</text>
<text x="46.9" y="503.2" font-size="6.7" fill="#111" text-anchor="start" font-weight="bold" stroke="#111" stroke-width="0.3" textLength="4" lengthAdjust="spacingAndGlyphs" >0</text>
<text x="64.2" y="503.2" font-size="6.7" fill="#111" text-anchor="start" font-weight="bold" stroke="#111" stroke-width="0.3" textLength="11.4" lengthAdjust="spacingAndGlyphs" >50K</text>
<text x="86.35" y="503.2" font-size="6.7" fill="#111" text-anchor="start" font-weight="bold" stroke="#111" stroke-width="0.3" textLength="14.7" lengthAdjust="spacingAndGlyphs" >100K</text>
<text x="109.95" y="503.2" font-size="6.7" fill="#111" text-anchor="start" font-weight="bold" stroke="#111" stroke-width="0.3" textLength="15.3" lengthAdjust="spacingAndGlyphs" >150K</text>
<text x="134.65" y="503.2" font-size="6.7" fill="#111" text-anchor="start" font-weight="bold" stroke="#111" stroke-width="0.3" textLength="14.7" lengthAdjust="spacingAndGlyphs" >200K</text>
<text x="158.35" y="503.2" font-size="6.7" fill="#111" text-anchor="start" font-weight="bold" stroke="#111" stroke-width="0.3" textLength="15.3" lengthAdjust="spacingAndGlyphs" >250K</text>
<line x1="54.5" y1="509.8" x2="72.3" y2="509.8" stroke="#111" stroke-width="1.5" />
<line x1="54.5" y1="507.3" x2="54.5" y2="512.3" stroke="#111" stroke-width="1.2" />
<line x1="72.3" y1="507.3" x2="72.3" y2="512.3" stroke="#111" stroke-width="1.2" />
<text x="52.2" y="524.6" font-size="8.8" fill="#111" text-anchor="start" font-weight="bold" stroke="#111" stroke-width="0.3" textLength="27.8" lengthAdjust="spacingAndGlyphs" >Sub G1</text>
<path d="M186.6,394.5 C187.27,396.77 187.93,399.74 188.6,401.3 C189.73,403.95 190.87,406.06 192,407.1 C193.9,408.85 195.8,409.81 197.7,410.5 C200.77,411.62 203.83,412.8 206.9,412.8 C208.8,412.8 210.7,411.6 212.6,409.4 C213.37,408.51 214.13,401.91 214.9,400.2 C215.53,398.79 216.17,397.2 216.8,397.2 C217.47,397.2 218.13,400.91 218.8,402.5 C219.8,404.88 220.8,408.48 221.8,408.9 C224.47,410.02 227.13,410.5 229.8,410.5 C233.23,410.5 236.67,410.23 240.1,409.4 C241.4,409.08 242.7,397.47 244,393.3 C245,390.09 246,385.3 247,385.3 C248.13,385.3 249.27,386.28 250.4,387.6 C251.57,388.96 252.73,398.97 253.9,402.5 C255.03,405.93 256.17,410.39 257.3,410.5 C263.4,411.09 269.5,411.2 275.6,411.2 C284.4,411.2 293.2,411.16 302,410.5 C302.6,410.46 303.2,388.77 303.8,377.9 L303.8,413.9 L186.6,413.9 Z" fill="rgba(255,80,80,0.09)" stroke="none"/>
<path d="M186.6,424.3 C188.8,425.8 191,428.3 193.2,428.8 C196.23,429.5 199.27,430 202.3,430 C206.13,430 209.97,429.77 213.8,428.8 C214.8,428.55 215.8,417.03 216.8,411.7 C217.33,408.86 217.87,403.6 218.4,403.6 C219.17,403.6 219.93,412.59 220.7,415.1 C222.2,420.01 223.7,425.08 225.2,425.4 C229.03,426.21 232.87,426.5 236.7,426.5 C239.77,426.5 242.83,425.77 245.9,424.3 C247.4,423.58 248.9,413.9 250.4,413.9 C251.57,413.9 252.73,415.77 253.9,417.4 C255.43,419.54 256.97,428.54 258.5,428.8 C264.2,429.75 269.9,429.7 275.6,430 C284.4,430.47 293.2,431.1 302,431.1 C302.6,431.1 303.2,429.9 303.8,429.3 L303.8,432.3 L186.6,432.3 Z" fill="rgba(255,160,70,0.08)" stroke="none"/>
<path d="M186.6,435.8 C187.63,438.8 188.67,443.72 189.7,444.8 C192.37,447.59 195.03,448.55 197.7,449.3 C200.77,450.16 203.83,451 206.9,451 C210.33,451 213.77,450.36 217.2,447.7 C217.97,447.11 218.73,424.1 219.5,424.1 C220.5,424.1 221.5,434.31 222.5,436.8 C223.8,440.04 225.1,442.62 226.4,443.5 C230.2,446.08 234,447.7 237.8,447.7 C240.87,447.7 243.93,443.77 247,441.2 C248.9,439.61 250.8,435.5 252.7,435.5 C254.23,435.5 255.77,440.34 257.3,442.4 C259.2,444.96 261.1,449.12 263,449.3 C276,450.56 289,450.8 302,450.8 C302.6,450.8 303.2,427.47 303.8,415.8 L303.8,451.8 L186.6,451.8 Z" fill="rgba(230,225,40,0.09)" stroke="none"/>
<path d="M186.6,456.3 C187.27,459 187.93,463.54 188.6,464.4 C190.9,467.38 193.2,468.9 195.5,468.9 C200.43,468.9 205.37,468.9 210.3,468.9 C211.07,468.9 211.83,462.84 212.6,459.8 C213.6,455.84 214.6,447.9 215.6,447.9 C216.53,447.9 217.47,453.04 218.4,455.2 C219.9,458.67 221.4,464.13 222.9,464.4 C227.5,465.24 232.1,465.5 236.7,465.5 C238.6,465.5 240.5,460.09 242.4,455.2 C243.7,451.86 245,439.2 246.3,439.2 C247.67,439.2 249.03,444.51 250.4,448.3 C251.93,452.55 253.47,464.54 255,465.5 C258.83,467.89 262.67,468.9 266.5,468.9 C268.77,468.9 271.03,466.7 273.3,466.7 C275.6,466.7 277.9,468.37 280.2,468.5 C287.47,468.92 294.73,469.1 302,469.1 C302.6,469.1 303.2,445.1 303.8,433.1 L303.8,470.1 L186.6,470.1 Z" fill="rgba(40,180,60,0.08)" stroke="none"/>
<path d="M186.6,483.8 C188.8,485.33 191,488.4 193.2,488.4 C197.77,488.4 202.33,487.87 206.9,487.3 C209.97,486.91 213.03,486.73 216.1,485 C217.23,484.36 218.37,459.8 219.5,459.8 C220.5,459.8 221.5,466.93 222.5,470.1 C223.8,474.22 225.1,479.54 226.4,481.5 C227.53,483.21 228.67,485 229.8,485 C231.7,485 233.6,483.2 235.5,483.2 C237.43,483.2 239.37,485 241.3,485 C243.2,485 245.1,480.57 247,477 C248.77,473.68 250.53,462.1 252.3,462.1 C253.6,462.1 254.9,468.73 256.2,472.4 C257.7,476.64 259.2,485.57 260.7,486.1 C265.67,487.84 270.63,488.19 275.6,488.4 C284.4,488.77 293.2,489 302,489 C302.6,489 303.2,479.67 303.8,475 L303.8,490 L186.6,490 Z" fill="rgba(60,150,230,0.12)" stroke="none"/>
<clipPath id="cH0"><rect x="184" y="372.6" width="122.3" height="40"/></clipPath>
<path d="M186.6,394.5 C187.27,396.77 187.93,399.74 188.6,401.3 C189.73,403.95 190.87,406.06 192,407.1 C193.9,408.85 195.8,409.81 197.7,410.5 C200.77,411.62 203.83,412.8 206.9,412.8 C208.8,412.8 210.7,411.6 212.6,409.4 C213.37,408.51 214.13,401.91 214.9,400.2 C215.53,398.79 216.17,397.2 216.8,397.2 C217.47,397.2 218.13,400.91 218.8,402.5 C219.8,404.88 220.8,408.48 221.8,408.9 C224.47,410.02 227.13,410.5 229.8,410.5 C233.23,410.5 236.67,410.23 240.1,409.4 C241.4,409.08 242.7,397.47 244,393.3 C245,390.09 246,385.3 247,385.3 C248.13,385.3 249.27,386.28 250.4,387.6 C251.57,388.96 252.73,398.97 253.9,402.5 C255.03,405.93 256.17,410.39 257.3,410.5 C263.4,411.09 269.5,411.2 275.6,411.2 C284.4,411.2 293.2,411.16 302,410.5 C302.6,410.46 303.2,388.77 303.8,377.9" fill="none" stroke="#ff5050" stroke-opacity="0.5" stroke-width="1.1" stroke-linejoin="round"/>
<path d="M186.6,394.5 C187.27,396.77 187.93,399.74 188.6,401.3 C189.73,403.95 190.87,406.06 192,407.1 C193.9,408.85 195.8,409.81 197.7,410.5 C200.77,411.62 203.83,412.8 206.9,412.8 C208.8,412.8 210.7,411.6 212.6,409.4 C213.37,408.51 214.13,401.91 214.9,400.2 C215.53,398.79 216.17,397.2 216.8,397.2 C217.47,397.2 218.13,400.91 218.8,402.5 C219.8,404.88 220.8,408.48 221.8,408.9 C224.47,410.02 227.13,410.5 229.8,410.5 C233.23,410.5 236.67,410.23 240.1,409.4 C241.4,409.08 242.7,397.47 244,393.3 C245,390.09 246,385.3 247,385.3 C248.13,385.3 249.27,386.28 250.4,387.6 C251.57,388.96 252.73,398.97 253.9,402.5 C255.03,405.93 256.17,410.39 257.3,410.5 C263.4,411.09 269.5,411.2 275.6,411.2 C284.4,411.2 293.2,411.16 302,410.5 C302.6,410.46 303.2,388.77 303.8,377.9" fill="none" stroke="#ff5050" stroke-width="1.3" stroke-linejoin="round" clip-path="url(#cH0)"/>
<clipPath id="cH1"><rect x="184" y="372.6" width="122.3" height="58.4"/></clipPath>
<path d="M186.6,424.3 C188.8,425.8 191,428.3 193.2,428.8 C196.23,429.5 199.27,430 202.3,430 C206.13,430 209.97,429.77 213.8,428.8 C214.8,428.55 215.8,417.03 216.8,411.7 C217.33,408.86 217.87,403.6 218.4,403.6 C219.17,403.6 219.93,412.59 220.7,415.1 C222.2,420.01 223.7,425.08 225.2,425.4 C229.03,426.21 232.87,426.5 236.7,426.5 C239.77,426.5 242.83,425.77 245.9,424.3 C247.4,423.58 248.9,413.9 250.4,413.9 C251.57,413.9 252.73,415.77 253.9,417.4 C255.43,419.54 256.97,428.54 258.5,428.8 C264.2,429.75 269.9,429.7 275.6,430 C284.4,430.47 293.2,431.1 302,431.1 C302.6,431.1 303.2,429.9 303.8,429.3" fill="none" stroke="#ffa048" stroke-opacity="0.5" stroke-width="1.1" stroke-linejoin="round"/>
<path d="M186.6,424.3 C188.8,425.8 191,428.3 193.2,428.8 C196.23,429.5 199.27,430 202.3,430 C206.13,430 209.97,429.77 213.8,428.8 C214.8,428.55 215.8,417.03 216.8,411.7 C217.33,408.86 217.87,403.6 218.4,403.6 C219.17,403.6 219.93,412.59 220.7,415.1 C222.2,420.01 223.7,425.08 225.2,425.4 C229.03,426.21 232.87,426.5 236.7,426.5 C239.77,426.5 242.83,425.77 245.9,424.3 C247.4,423.58 248.9,413.9 250.4,413.9 C251.57,413.9 252.73,415.77 253.9,417.4 C255.43,419.54 256.97,428.54 258.5,428.8 C264.2,429.75 269.9,429.7 275.6,430 C284.4,430.47 293.2,431.1 302,431.1 C302.6,431.1 303.2,429.9 303.8,429.3" fill="none" stroke="#ffa048" stroke-width="1.3" stroke-linejoin="round" clip-path="url(#cH1)"/>
<clipPath id="cH2"><rect x="184" y="372.6" width="122.3" height="77.9"/></clipPath>
<path d="M186.6,435.8 C187.63,438.8 188.67,443.72 189.7,444.8 C192.37,447.59 195.03,448.55 197.7,449.3 C200.77,450.16 203.83,451 206.9,451 C210.33,451 213.77,450.36 217.2,447.7 C217.97,447.11 218.73,424.1 219.5,424.1 C220.5,424.1 221.5,434.31 222.5,436.8 C223.8,440.04 225.1,442.62 226.4,443.5 C230.2,446.08 234,447.7 237.8,447.7 C240.87,447.7 243.93,443.77 247,441.2 C248.9,439.61 250.8,435.5 252.7,435.5 C254.23,435.5 255.77,440.34 257.3,442.4 C259.2,444.96 261.1,449.12 263,449.3 C276,450.56 289,450.8 302,450.8 C302.6,450.8 303.2,427.47 303.8,415.8" fill="none" stroke="#e6de30" stroke-opacity="0.5" stroke-width="1.1" stroke-linejoin="round"/>
<path d="M186.6,435.8 C187.63,438.8 188.67,443.72 189.7,444.8 C192.37,447.59 195.03,448.55 197.7,449.3 C200.77,450.16 203.83,451 206.9,451 C210.33,451 213.77,450.36 217.2,447.7 C217.97,447.11 218.73,424.1 219.5,424.1 C220.5,424.1 221.5,434.31 222.5,436.8 C223.8,440.04 225.1,442.62 226.4,443.5 C230.2,446.08 234,447.7 237.8,447.7 C240.87,447.7 243.93,443.77 247,441.2 C248.9,439.61 250.8,435.5 252.7,435.5 C254.23,435.5 255.77,440.34 257.3,442.4 C259.2,444.96 261.1,449.12 263,449.3 C276,450.56 289,450.8 302,450.8 C302.6,450.8 303.2,427.47 303.8,415.8" fill="none" stroke="#e6de30" stroke-width="1.3" stroke-linejoin="round" clip-path="url(#cH2)"/>
<clipPath id="cH3"><rect x="184" y="372.6" width="122.3" height="96.2"/></clipPath>
<path d="M186.6,456.3 C187.27,459 187.93,463.54 188.6,464.4 C190.9,467.38 193.2,468.9 195.5,468.9 C200.43,468.9 205.37,468.9 210.3,468.9 C211.07,468.9 211.83,462.84 212.6,459.8 C213.6,455.84 214.6,447.9 215.6,447.9 C216.53,447.9 217.47,453.04 218.4,455.2 C219.9,458.67 221.4,464.13 222.9,464.4 C227.5,465.24 232.1,465.5 236.7,465.5 C238.6,465.5 240.5,460.09 242.4,455.2 C243.7,451.86 245,439.2 246.3,439.2 C247.67,439.2 249.03,444.51 250.4,448.3 C251.93,452.55 253.47,464.54 255,465.5 C258.83,467.89 262.67,468.9 266.5,468.9 C268.77,468.9 271.03,466.7 273.3,466.7 C275.6,466.7 277.9,468.37 280.2,468.5 C287.47,468.92 294.73,469.1 302,469.1 C302.6,469.1 303.2,445.1 303.8,433.1" fill="none" stroke="#28bb30" stroke-opacity="0.5" stroke-width="1.1" stroke-linejoin="round"/>
<path d="M186.6,456.3 C187.27,459 187.93,463.54 188.6,464.4 C190.9,467.38 193.2,468.9 195.5,468.9 C200.43,468.9 205.37,468.9 210.3,468.9 C211.07,468.9 211.83,462.84 212.6,459.8 C213.6,455.84 214.6,447.9 215.6,447.9 C216.53,447.9 217.47,453.04 218.4,455.2 C219.9,458.67 221.4,464.13 222.9,464.4 C227.5,465.24 232.1,465.5 236.7,465.5 C238.6,465.5 240.5,460.09 242.4,455.2 C243.7,451.86 245,439.2 246.3,439.2 C247.67,439.2 249.03,444.51 250.4,448.3 C251.93,452.55 253.47,464.54 255,465.5 C258.83,467.89 262.67,468.9 266.5,468.9 C268.77,468.9 271.03,466.7 273.3,466.7 C275.6,466.7 277.9,468.37 280.2,468.5 C287.47,468.92 294.73,469.1 302,469.1 C302.6,469.1 303.2,445.1 303.8,433.1" fill="none" stroke="#28bb30" stroke-width="1.3" stroke-linejoin="round" clip-path="url(#cH3)"/>
<clipPath id="cH4"><rect x="184" y="372.6" width="122.3" height="116.1"/></clipPath>
<path d="M186.6,483.8 C188.8,485.33 191,488.4 193.2,488.4 C197.77,488.4 202.33,487.87 206.9,487.3 C209.97,486.91 213.03,486.73 216.1,485 C217.23,484.36 218.37,459.8 219.5,459.8 C220.5,459.8 221.5,466.93 222.5,470.1 C223.8,474.22 225.1,479.54 226.4,481.5 C227.53,483.21 228.67,485 229.8,485 C231.7,485 233.6,483.2 235.5,483.2 C237.43,483.2 239.37,485 241.3,485 C243.2,485 245.1,480.57 247,477 C248.77,473.68 250.53,462.1 252.3,462.1 C253.6,462.1 254.9,468.73 256.2,472.4 C257.7,476.64 259.2,485.57 260.7,486.1 C265.67,487.84 270.63,488.19 275.6,488.4 C284.4,488.77 293.2,489 302,489 C302.6,489 303.2,479.67 303.8,475" fill="none" stroke="#3a9cf2" stroke-opacity="0.5" stroke-width="1.1" stroke-linejoin="round"/>
<path d="M186.6,483.8 C188.8,485.33 191,488.4 193.2,488.4 C197.77,488.4 202.33,487.87 206.9,487.3 C209.97,486.91 213.03,486.73 216.1,485 C217.23,484.36 218.37,459.8 219.5,459.8 C220.5,459.8 221.5,466.93 222.5,470.1 C223.8,474.22 225.1,479.54 226.4,481.5 C227.53,483.21 228.67,485 229.8,485 C231.7,485 233.6,483.2 235.5,483.2 C237.43,483.2 239.37,485 241.3,485 C243.2,485 245.1,480.57 247,477 C248.77,473.68 250.53,462.1 252.3,462.1 C253.6,462.1 254.9,468.73 256.2,472.4 C257.7,476.64 259.2,485.57 260.7,486.1 C265.67,487.84 270.63,488.19 275.6,488.4 C284.4,488.77 293.2,489 302,489 C302.6,489 303.2,479.67 303.8,475" fill="none" stroke="#3a9cf2" stroke-width="1.3" stroke-linejoin="round" clip-path="url(#cH4)"/>
<rect x="186" y="377.6" width="118.3" height="112.2" fill="none" stroke="#3a3a3a" stroke-width="1.2" />
<line x1="186" y1="489.8" x2="186" y2="492" stroke="#444" stroke-width="0.7" />
<line x1="192" y1="489.8" x2="192" y2="492" stroke="#444" stroke-width="0.7" />
<line x1="198" y1="489.8" x2="198" y2="492" stroke="#444" stroke-width="0.7" />
<line x1="204" y1="489.8" x2="204" y2="492" stroke="#444" stroke-width="0.7" />
<line x1="210" y1="489.8" x2="210" y2="492" stroke="#444" stroke-width="0.7" />
<line x1="216" y1="489.8" x2="216" y2="492" stroke="#444" stroke-width="0.7" />
<line x1="222" y1="489.8" x2="222" y2="492" stroke="#444" stroke-width="0.7" />
<line x1="228" y1="489.8" x2="228" y2="492" stroke="#444" stroke-width="0.7" />
<line x1="234" y1="489.8" x2="234" y2="492" stroke="#444" stroke-width="0.7" />
<line x1="240" y1="489.8" x2="240" y2="492" stroke="#444" stroke-width="0.7" />
<line x1="246" y1="489.8" x2="246" y2="492" stroke="#444" stroke-width="0.7" />
<line x1="252" y1="489.8" x2="252" y2="492" stroke="#444" stroke-width="0.7" />
<line x1="258" y1="489.8" x2="258" y2="492" stroke="#444" stroke-width="0.7" />
<line x1="264" y1="489.8" x2="264" y2="492" stroke="#444" stroke-width="0.7" />
<line x1="270" y1="489.8" x2="270" y2="492" stroke="#444" stroke-width="0.7" />
<line x1="276" y1="489.8" x2="276" y2="492" stroke="#444" stroke-width="0.7" />
<line x1="282" y1="489.8" x2="282" y2="492" stroke="#444" stroke-width="0.7" />
<line x1="288" y1="489.8" x2="288" y2="492" stroke="#444" stroke-width="0.7" />
<line x1="294" y1="489.8" x2="294" y2="492" stroke="#444" stroke-width="0.7" />
<line x1="300" y1="489.8" x2="300" y2="492" stroke="#444" stroke-width="0.7" />
<line x1="207.6" y1="377.6" x2="207.6" y2="491" stroke="#111" stroke-width="2" stroke-dasharray="3.5,2"/>
<ellipse cx="290.8" cy="404.4" rx="8.3" ry="7.9" fill="#fff" stroke="#111" stroke-width="1.6"/>
<text x="290.8" y="408.3" font-size="11.2" fill="#111" text-anchor="middle" font-weight="bold" stroke="#111" stroke-width="0.3" >17</text>
<ellipse cx="290.8" cy="423.4" rx="8.3" ry="7.9" fill="#fff" stroke="#111" stroke-width="1.6"/>
<text x="290.8" y="427.3" font-size="11.2" fill="#111" text-anchor="middle" font-weight="bold" stroke="#111" stroke-width="0.3" >12</text>
<ellipse cx="290.8" cy="442.5" rx="8.3" ry="7.9" fill="#fff" stroke="#111" stroke-width="1.6"/>
<text x="290.8" y="446.4" font-size="11.2" fill="#111" text-anchor="middle" font-weight="bold" stroke="#111" stroke-width="0.3" >11</text>
<ellipse cx="290.8" cy="460.9" rx="8.3" ry="7.9" fill="#fff" stroke="#111" stroke-width="1.6"/>
<text x="290.8" y="464.8" font-size="11.2" fill="#111" text-anchor="middle" font-weight="bold" stroke="#111" stroke-width="0.3" >9</text>
<ellipse cx="290.8" cy="480.2" rx="8.3" ry="7.9" fill="#fff" stroke="#111" stroke-width="1.6"/>
<text x="290.8" y="484.1" font-size="11.2" fill="#111" text-anchor="middle" font-weight="bold" stroke="#111" stroke-width="0.3" >7</text>
<text x="190.2" y="390.4" font-size="14.5" fill="#111" text-anchor="start" font-weight="bold" stroke="#111" stroke-width="0.3" >H</text>
<text x="184.5" y="503.2" font-size="6.7" fill="#111" text-anchor="start" font-weight="bold" stroke="#111" stroke-width="0.3" textLength="4" lengthAdjust="spacingAndGlyphs" >0</text>
<text x="201.1" y="503.2" font-size="6.7" fill="#111" text-anchor="start" font-weight="bold" stroke="#111" stroke-width="0.3" textLength="11.4" lengthAdjust="spacingAndGlyphs" >50K</text>
<text x="221.05" y="503.2" font-size="6.7" fill="#111" text-anchor="start" font-weight="bold" stroke="#111" stroke-width="0.3" textLength="14.7" lengthAdjust="spacingAndGlyphs" >100K</text>
<text x="243.75" y="503.2" font-size="6.7" fill="#111" text-anchor="start" font-weight="bold" stroke="#111" stroke-width="0.3" textLength="15.3" lengthAdjust="spacingAndGlyphs" >150K</text>
<text x="266.95" y="503.2" font-size="6.7" fill="#111" text-anchor="start" font-weight="bold" stroke="#111" stroke-width="0.3" textLength="14.7" lengthAdjust="spacingAndGlyphs" >200K</text>
<text x="288.25" y="503.2" font-size="6.7" fill="#111" text-anchor="start" font-weight="bold" stroke="#111" stroke-width="0.3" textLength="15.3" lengthAdjust="spacingAndGlyphs" >250K</text>
<line x1="191.5" y1="512.3" x2="209.4" y2="512.3" stroke="#111" stroke-width="1.5" />
<line x1="191.5" y1="509.8" x2="191.5" y2="514.8" stroke="#111" stroke-width="1.2" />
<line x1="209.4" y1="509.8" x2="209.4" y2="514.8" stroke="#111" stroke-width="1.2" />
<text x="189" y="525.9" font-size="8.8" fill="#111" text-anchor="start" font-weight="bold" stroke="#111" stroke-width="0.3" textLength="27.5" lengthAdjust="spacingAndGlyphs" >Sub G1</text>
<rect x="371.2" y="156.84" width="9.6" height="4.16" fill="#8282e2" stroke="#1f1ff5" stroke-width="1.4" />
<line x1="376" y1="154.93" x2="376" y2="157.36" stroke="#1f1ff5" stroke-width="1.3" />
<line x1="373.4" y1="154.93" x2="378.6" y2="154.93" stroke="#1f1ff5" stroke-width="1.3" />
<line x1="373.4" y1="157.36" x2="378.6" y2="157.36" stroke="#1f1ff5" stroke-width="1.3" />
<path d="M374,155.53 L378,155.53 L376,153.13 Z" fill="#1f1ff5"/>
<path d="M374,156.76 L378,156.76 L376,159.16 Z" fill="#1f1ff5"/>
<circle cx="373.2" cy="158.34" r="1.0" fill="#1f1ff5" fill-opacity="0.6"/>
<circle cx="378.8" cy="158.34" r="1.0" fill="#1f1ff5" fill-opacity="0.6"/>
<rect x="382.2" y="157.09" width="9.6" height="3.91" fill="#ff8c8c" stroke="#ff2424" stroke-width="1.4" />
<line x1="387" y1="152.5" x2="387" y2="160.27" stroke="#ff2424" stroke-width="1.3" />
<line x1="384.4" y1="152.5" x2="389.6" y2="152.5" stroke="#ff2424" stroke-width="1.3" />
<line x1="384.4" y1="160.27" x2="389.6" y2="160.27" stroke="#ff2424" stroke-width="1.3" />
<path d="M385,153.1 L389,153.1 L387,150.7 Z" fill="#ff2424"/>
<path d="M385,159.67 L389,159.67 L387,162.07 Z" fill="#ff2424"/>
<circle cx="384.2" cy="158.59" r="1.0" fill="#ff2424" fill-opacity="0.6"/>
<circle cx="389.8" cy="158.59" r="1.0" fill="#ff2424" fill-opacity="0.6"/>
<rect x="405" y="158.3" width="9.6" height="2.7" fill="#8282e2" stroke="#1f1ff5" stroke-width="1.4" />
<line x1="409.8" y1="152.5" x2="409.8" y2="161" stroke="#1f1ff5" stroke-width="1.3" />
<line x1="407.2" y1="152.5" x2="412.4" y2="152.5" stroke="#1f1ff5" stroke-width="1.3" />
<line x1="407.2" y1="161" x2="412.4" y2="161" stroke="#1f1ff5" stroke-width="1.3" />
<path d="M407.8,153.1 L411.8,153.1 L409.8,150.7 Z" fill="#1f1ff5"/>
<path d="M407.8,160.4 L411.8,160.4 L409.8,162.8 Z" fill="#1f1ff5"/>
<circle cx="407" cy="159.8" r="1.0" fill="#1f1ff5" fill-opacity="0.6"/>
<circle cx="412.6" cy="159.8" r="1.0" fill="#1f1ff5" fill-opacity="0.6"/>
<rect x="416" y="154.9" width="9.6" height="6.1" fill="#ff8c8c" stroke="#ff2424" stroke-width="1.4" />
<line x1="420.8" y1="150.56" x2="420.8" y2="157.84" stroke="#ff2424" stroke-width="1.3" />
<line x1="418.2" y1="150.56" x2="423.4" y2="150.56" stroke="#ff2424" stroke-width="1.3" />
<line x1="418.2" y1="157.84" x2="423.4" y2="157.84" stroke="#ff2424" stroke-width="1.3" />
<path d="M418.8,151.16 L422.8,151.16 L420.8,148.76 Z" fill="#ff2424"/>
<path d="M418.8,157.24 L422.8,157.24 L420.8,159.64 Z" fill="#ff2424"/>
<circle cx="418" cy="156.4" r="1.0" fill="#ff2424" fill-opacity="0.6"/>
<circle cx="423.6" cy="156.4" r="1.0" fill="#ff2424" fill-opacity="0.6"/>
<rect x="439.3" y="155.63" width="9.6" height="5.37" fill="#8282e2" stroke="#1f1ff5" stroke-width="1.4" />
<line x1="444.1" y1="150.56" x2="444.1" y2="159.3" stroke="#1f1ff5" stroke-width="1.3" />
<line x1="441.5" y1="150.56" x2="446.7" y2="150.56" stroke="#1f1ff5" stroke-width="1.3" />
<line x1="441.5" y1="159.3" x2="446.7" y2="159.3" stroke="#1f1ff5" stroke-width="1.3" />
<path d="M442.1,151.16 L446.1,151.16 L444.1,148.76 Z" fill="#1f1ff5"/>
<path d="M442.1,158.7 L446.1,158.7 L444.1,161.1 Z" fill="#1f1ff5"/>
<circle cx="441.3" cy="157.13" r="1.0" fill="#1f1ff5" fill-opacity="0.6"/>
<circle cx="446.9" cy="157.13" r="1.0" fill="#1f1ff5" fill-opacity="0.6"/>
<rect x="450.3" y="153.93" width="9.6" height="7.07" fill="#ff8c8c" stroke="#ff2424" stroke-width="1.4" />
<line x1="455.1" y1="148.38" x2="455.1" y2="158.09" stroke="#ff2424" stroke-width="1.3" />
<line x1="452.5" y1="148.38" x2="457.7" y2="148.38" stroke="#ff2424" stroke-width="1.3" />
<line x1="452.5" y1="158.09" x2="457.7" y2="158.09" stroke="#ff2424" stroke-width="1.3" />
<path d="M453.1,148.98 L457.1,148.98 L455.1,146.58 Z" fill="#ff2424"/>
<path d="M453.1,157.49 L457.1,157.49 L455.1,159.89 Z" fill="#ff2424"/>
<circle cx="452.3" cy="155.43" r="1.0" fill="#ff2424" fill-opacity="0.6"/>
<circle cx="457.9" cy="155.43" r="1.0" fill="#ff2424" fill-opacity="0.6"/>
<rect x="473.5" y="144.22" width="9.6" height="16.78" fill="#8282e2" stroke="#1f1ff5" stroke-width="1.4" />
<line x1="478.3" y1="136.24" x2="478.3" y2="150.8" stroke="#1f1ff5" stroke-width="1.3" />
<line x1="475.7" y1="136.24" x2="480.9" y2="136.24" stroke="#1f1ff5" stroke-width="1.3" />
<line x1="475.7" y1="150.8" x2="480.9" y2="150.8" stroke="#1f1ff5" stroke-width="1.3" />
<path d="M476.3,136.84 L480.3,136.84 L478.3,134.44 Z" fill="#1f1ff5"/>
<path d="M476.3,150.2 L480.3,150.2 L478.3,152.6 Z" fill="#1f1ff5"/>
<circle cx="475.5" cy="145.72" r="1.0" fill="#1f1ff5" fill-opacity="0.6"/>
<circle cx="481.1" cy="145.72" r="1.0" fill="#1f1ff5" fill-opacity="0.6"/>
<rect x="484.5" y="136.21" width="9.6" height="24.79" fill="#ff8c8c" stroke="#ff2424" stroke-width="1.4" />
<line x1="489.3" y1="131.14" x2="489.3" y2="139.88" stroke="#ff2424" stroke-width="1.3" />
<line x1="486.7" y1="131.14" x2="491.9" y2="131.14" stroke="#ff2424" stroke-width="1.3" />
<line x1="486.7" y1="139.88" x2="491.9" y2="139.88" stroke="#ff2424" stroke-width="1.3" />
<path d="M487.3,131.74 L491.3,131.74 L489.3,129.34 Z" fill="#ff2424"/>
<path d="M487.3,139.28 L491.3,139.28 L489.3,141.68 Z" fill="#ff2424"/>
<circle cx="486.5" cy="137.71" r="1.0" fill="#ff2424" fill-opacity="0.6"/>
<circle cx="492.1" cy="137.71" r="1.0" fill="#ff2424" fill-opacity="0.6"/>
<rect x="507.7" y="71.62" width="9.6" height="43.98" fill="#8282e2" stroke="none" stroke-width="1" />
<line x1="507.7" y1="70.92" x2="507.7" y2="115.6" stroke="#1f1ff5" stroke-width="1.4" />
<line x1="517.3" y1="70.92" x2="517.3" y2="115.6" stroke="#1f1ff5" stroke-width="1.4" />
<rect x="507.7" y="123" width="9.6" height="38" fill="#8282e2" stroke="none" stroke-width="1" />
<line x1="507.7" y1="122.3" x2="507.7" y2="161" stroke="#1f1ff5" stroke-width="1.4" />
<line x1="517.3" y1="122.3" x2="517.3" y2="161" stroke="#1f1ff5" stroke-width="1.4" />
<line x1="507" y1="71.62" x2="518" y2="71.62" stroke="#1f1ff5" stroke-width="1.4" />
<line x1="512.5" y1="66.99" x2="512.5" y2="74.85" stroke="#1f1ff5" stroke-width="1.3" />
<line x1="509.9" y1="66.99" x2="515.1" y2="66.99" stroke="#1f1ff5" stroke-width="1.3" />
<line x1="509.9" y1="74.85" x2="515.1" y2="74.85" stroke="#1f1ff5" stroke-width="1.3" />
<path d="M510.5,67.59 L514.5,67.59 L512.5,65.19 Z" fill="#1f1ff5"/>
<path d="M510.5,74.25 L514.5,74.25 L512.5,76.65 Z" fill="#1f1ff5"/>
<circle cx="509.7" cy="73.12" r="1.0" fill="#1f1ff5" fill-opacity="0.6"/>
<circle cx="515.3" cy="73.12" r="1.0" fill="#1f1ff5" fill-opacity="0.6"/>
<rect x="518.7" y="100.08" width="9.6" height="15.52" fill="#ff8c8c" stroke="none" stroke-width="1" />
<line x1="518.7" y1="99.38" x2="518.7" y2="115.6" stroke="#ff2424" stroke-width="1.4" />
<line x1="528.3" y1="99.38" x2="528.3" y2="115.6" stroke="#ff2424" stroke-width="1.4" />
<rect x="518.7" y="123" width="9.6" height="38" fill="#ff8c8c" stroke="none" stroke-width="1" />
<line x1="518.7" y1="122.3" x2="518.7" y2="161" stroke="#ff2424" stroke-width="1.4" />
<line x1="528.3" y1="122.3" x2="528.3" y2="161" stroke="#ff2424" stroke-width="1.4" />
<line x1="518" y1="100.08" x2="529" y2="100.08" stroke="#ff2424" stroke-width="1.4" />
<line x1="523.5" y1="94.75" x2="523.5" y2="104" stroke="#ff2424" stroke-width="1.3" />
<line x1="520.9" y1="94.75" x2="526.1" y2="94.75" stroke="#ff2424" stroke-width="1.3" />
<line x1="520.9" y1="104" x2="526.1" y2="104" stroke="#ff2424" stroke-width="1.3" />
<path d="M521.5,95.35 L525.5,95.35 L523.5,92.95 Z" fill="#ff2424"/>
<path d="M521.5,103.4 L525.5,103.4 L523.5,105.8 Z" fill="#ff2424"/>
<circle cx="520.7" cy="101.58" r="1.0" fill="#ff2424" fill-opacity="0.6"/>
<circle cx="526.3" cy="101.58" r="1.0" fill="#ff2424" fill-opacity="0.6"/>
<line x1="364.8" y1="122.4" x2="364.8" y2="161.6" stroke="#808080" stroke-width="1.1" />
<line x1="363.3" y1="122.4" x2="366.6" y2="122.4" stroke="#1a1a1a" stroke-width="1.3" />
<line x1="364.8" y1="45.8" x2="364.8" y2="116.4" stroke="#1a1a1a" stroke-width="1.6" />
<line x1="361.6" y1="161" x2="364.8" y2="161" stroke="#1a1a1a" stroke-width="1.3" />
<text x="360.2" y="163.9" font-size="7.8" fill="#111" text-anchor="end" font-weight="bold" stroke="#111" stroke-width="0.2" >0</text>
<line x1="361.6" y1="136.72" x2="364.8" y2="136.72" stroke="#1a1a1a" stroke-width="1.3" />
<text x="360.2" y="139.62" font-size="7.8" fill="#111" text-anchor="end" font-weight="bold" stroke="#111" stroke-width="0.2" >10</text>
<line x1="361.6" y1="115.8" x2="364.8" y2="115.8" stroke="#1a1a1a" stroke-width="1.3" />
<text x="360.2" y="118.7" font-size="7.8" fill="#111" text-anchor="end" font-weight="bold" stroke="#111" stroke-width="0.2" >20</text>
<line x1="361.6" y1="104.23" x2="364.8" y2="104.23" stroke="#1a1a1a" stroke-width="1.3" />
<text x="360.2" y="107.13" font-size="7.8" fill="#111" text-anchor="end" font-weight="bold" stroke="#111" stroke-width="0.2" >30</text>
<line x1="361.6" y1="92.67" x2="364.8" y2="92.67" stroke="#1a1a1a" stroke-width="1.3" />
<text x="360.2" y="95.57" font-size="7.8" fill="#111" text-anchor="end" font-weight="bold" stroke="#111" stroke-width="0.2" >40</text>
<line x1="361.6" y1="81.1" x2="364.8" y2="81.1" stroke="#1a1a1a" stroke-width="1.3" />
<text x="360.2" y="84" font-size="7.8" fill="#111" text-anchor="end" font-weight="bold" stroke="#111" stroke-width="0.2" >50</text>
<line x1="361.6" y1="69.53" x2="364.8" y2="69.53" stroke="#1a1a1a" stroke-width="1.3" />
<text x="360.2" y="72.43" font-size="7.8" fill="#111" text-anchor="end" font-weight="bold" stroke="#111" stroke-width="0.2" >60</text>
<line x1="361.6" y1="57.97" x2="364.8" y2="57.97" stroke="#1a1a1a" stroke-width="1.3" />
<text x="360.2" y="60.87" font-size="7.8" fill="#111" text-anchor="end" font-weight="bold" stroke="#111" stroke-width="0.2" >70</text>
<line x1="361.6" y1="46.4" x2="364.8" y2="46.4" stroke="#1a1a1a" stroke-width="1.3" />
<text x="360.2" y="49.3" font-size="7.8" fill="#111" text-anchor="end" font-weight="bold" stroke="#111" stroke-width="0.2" >80</text>
<line x1="360.5" y1="161" x2="535" y2="161" stroke="#262626" stroke-width="1.3" />
<line x1="381.5" y1="161" x2="381.5" y2="163.6" stroke="#1a1a1a" stroke-width="1.2" />
<text x="381.5" y="173.3" font-size="8.6" fill="#111" text-anchor="middle" font-weight="bold" stroke="#111" stroke-width="0.3" >0</text>
<line x1="415.3" y1="161" x2="415.3" y2="163.6" stroke="#1a1a1a" stroke-width="1.2" />
<text x="415.3" y="173.3" font-size="8.6" fill="#111" text-anchor="middle" font-weight="bold" stroke="#111" stroke-width="0.3" >1</text>
<line x1="449.6" y1="161" x2="449.6" y2="163.6" stroke="#1a1a1a" stroke-width="1.2" />
<text x="449.6" y="173.3" font-size="8.6" fill="#111" text-anchor="middle" font-weight="bold" stroke="#111" stroke-width="0.3" >5</text>
<line x1="483.8" y1="161" x2="483.8" y2="163.6" stroke="#1a1a1a" stroke-width="1.2" />
<text x="483.8" y="173.3" font-size="8.6" fill="#111" text-anchor="middle" font-weight="bold" stroke="#111" stroke-width="0.3" >10</text>
<line x1="518" y1="161" x2="518" y2="163.6" stroke="#1a1a1a" stroke-width="1.2" />
<text x="518" y="173.3" font-size="8.6" fill="#111" text-anchor="middle" font-weight="bold" stroke="#111" stroke-width="0.3" >50</text>
<text transform="translate(347.8,101.5) rotate(-90)" x="0" y="0" font-size="9.2" fill="#111" text-anchor="middle" font-weight="bold" textLength="103.7" lengthAdjust="spacingAndGlyphs">Mitotracker low cells (%)</text>
<rect x="383.2" y="65" width="3" height="3" fill="#1f1ff5" stroke="none" stroke-width="1" />
<rect x="383.2" y="77" width="3" height="3" fill="#ff2424" stroke="none" stroke-width="1" />
<text x="392.7" y="69.2" font-size="8" fill="#1a1a1a" text-anchor="start" font-weight="bold" stroke="#1a1a1a" stroke-width="0.1" textLength="36.6" lengthAdjust="spacingAndGlyphs" >LRRK2 WT</text>
<text x="392.7" y="81.2" font-size="8" fill="#1a1a1a" text-anchor="start" font-weight="bold" stroke="#1a1a1a" stroke-width="0.1" textLength="36.3" lengthAdjust="spacingAndGlyphs" >LRRK2 KO</text>
<polyline points="511.6,63.8 511.6,60 523.6,60 523.6,86.6" fill="none" stroke="#1a1a1a" stroke-width="1.3"/>
<text x="510" y="48.9" font-size="6.2" fill="#222" text-anchor="start" font-weight="bold" stroke="#222" stroke-width="0.15" textLength="17.2" lengthAdjust="spacingAndGlyphs" >p&lt;0.001</text>
<circle cx="513.1" cy="54.4" r="1.25" fill="#111"/>
<circle cx="517.6" cy="54.4" r="1.25" fill="#111"/>
<circle cx="522.1" cy="54.4" r="1.25" fill="#111"/>
<text x="320.3" y="59.4" font-size="14.5" fill="#111" text-anchor="start" font-weight="bold" stroke="#111" stroke-width="0.3" >C</text>
<rect x="370.1" y="330.59" width="9.5" height="1.61" fill="#8282e2" stroke="#1f1ff5" stroke-width="1.4" />
<line x1="374.85" y1="326.89" x2="374.85" y2="332.2" stroke="#1f1ff5" stroke-width="1.3" />
<line x1="372.25" y1="326.89" x2="377.45" y2="326.89" stroke="#1f1ff5" stroke-width="1.3" />
<line x1="372.25" y1="332.2" x2="377.45" y2="332.2" stroke="#1f1ff5" stroke-width="1.3" />
<path d="M372.85,327.49 L376.85,327.49 L374.85,325.09 Z" fill="#1f1ff5"/>
<path d="M372.85,331.6 L376.85,331.6 L374.85,334 Z" fill="#1f1ff5"/>
<rect x="381" y="329.44" width="9.5" height="2.76" fill="#ff8c8c" stroke="#ff2424" stroke-width="1.4" />
<line x1="385.75" y1="325.51" x2="385.75" y2="331.97" stroke="#ff2424" stroke-width="1.3" />
<line x1="383.15" y1="325.51" x2="388.35" y2="325.51" stroke="#ff2424" stroke-width="1.3" />
<line x1="383.15" y1="331.97" x2="388.35" y2="331.97" stroke="#ff2424" stroke-width="1.3" />
<path d="M383.75,326.11 L387.75,326.11 L385.75,323.71 Z" fill="#ff2424"/>
<path d="M383.75,331.37 L387.75,331.37 L385.75,333.77 Z" fill="#ff2424"/>
<circle cx="382.95" cy="330.94" r="1.0" fill="#ff2424" fill-opacity="0.6"/>
<circle cx="388.55" cy="330.94" r="1.0" fill="#ff2424" fill-opacity="0.6"/>
<rect x="402.5" y="322.97" width="9.5" height="9.23" fill="#8282e2" stroke="#1f1ff5" stroke-width="1.4" />
<line x1="407.25" y1="317.89" x2="407.25" y2="326.66" stroke="#1f1ff5" stroke-width="1.3" />
<line x1="404.65" y1="317.89" x2="409.85" y2="317.89" stroke="#1f1ff5" stroke-width="1.3" />
<line x1="404.65" y1="326.66" x2="409.85" y2="326.66" stroke="#1f1ff5" stroke-width="1.3" />
<path d="M405.25,318.49 L409.25,318.49 L407.25,316.09 Z" fill="#1f1ff5"/>
<path d="M405.25,326.06 L409.25,326.06 L407.25,328.46 Z" fill="#1f1ff5"/>
<circle cx="404.45" cy="324.47" r="1.0" fill="#1f1ff5" fill-opacity="0.6"/>
<circle cx="410.05" cy="324.47" r="1.0" fill="#1f1ff5" fill-opacity="0.6"/>
<rect x="413.4" y="325.51" width="9.5" height="6.69" fill="#ff8c8c" stroke="#ff2424" stroke-width="1.4" />
<line x1="418.15" y1="319.97" x2="418.15" y2="329.66" stroke="#ff2424" stroke-width="1.3" />
<line x1="415.55" y1="319.97" x2="420.75" y2="319.97" stroke="#ff2424" stroke-width="1.3" />
<line x1="415.55" y1="329.66" x2="420.75" y2="329.66" stroke="#ff2424" stroke-width="1.3" />
<path d="M416.15,320.57 L420.15,320.57 L418.15,318.17 Z" fill="#ff2424"/>
<path d="M416.15,329.06 L420.15,329.06 L418.15,331.46 Z" fill="#ff2424"/>
<circle cx="415.35" cy="327.01" r="1.0" fill="#ff2424" fill-opacity="0.6"/>
<circle cx="420.95" cy="327.01" r="1.0" fill="#ff2424" fill-opacity="0.6"/>
<rect x="435" y="244.18" width="9.5" height="53.82" fill="#8282e2" stroke="none" stroke-width="1" />
<line x1="435" y1="243.48" x2="435" y2="298" stroke="#1f1ff5" stroke-width="1.4" />
<line x1="444.5" y1="243.48" x2="444.5" y2="298" stroke="#1f1ff5" stroke-width="1.4" />
<rect x="435" y="305.1" width="9.5" height="27.1" fill="#8282e2" stroke="none" stroke-width="1" />
<line x1="435" y1="304.4" x2="435" y2="332.2" stroke="#1f1ff5" stroke-width="1.4" />
<line x1="444.5" y1="304.4" x2="444.5" y2="332.2" stroke="#1f1ff5" stroke-width="1.4" />
<line x1="434.3" y1="244.18" x2="445.2" y2="244.18" stroke="#1f1ff5" stroke-width="1.4" />
<line x1="439.75" y1="238.78" x2="439.75" y2="248.19" stroke="#1f1ff5" stroke-width="1.3" />
<line x1="437.15" y1="238.78" x2="442.35" y2="238.78" stroke="#1f1ff5" stroke-width="1.3" />
<line x1="437.15" y1="248.19" x2="442.35" y2="248.19" stroke="#1f1ff5" stroke-width="1.3" />
<path d="M437.75,239.38 L441.75,239.38 L439.75,236.98 Z" fill="#1f1ff5"/>
<path d="M437.75,247.59 L441.75,247.59 L439.75,249.99 Z" fill="#1f1ff5"/>
<circle cx="436.95" cy="245.68" r="1.0" fill="#1f1ff5" fill-opacity="0.6"/>
<circle cx="442.55" cy="245.68" r="1.0" fill="#1f1ff5" fill-opacity="0.6"/>
<rect x="445.9" y="328.28" width="9.5" height="3.92" fill="#ff8c8c" stroke="#ff2424" stroke-width="1.4" />
<line x1="450.65" y1="323.66" x2="450.65" y2="331.51" stroke="#ff2424" stroke-width="1.3" />
<line x1="448.05" y1="323.66" x2="453.25" y2="323.66" stroke="#ff2424" stroke-width="1.3" />
<line x1="448.05" y1="331.51" x2="453.25" y2="331.51" stroke="#ff2424" stroke-width="1.3" />
<path d="M448.65,324.26 L452.65,324.26 L450.65,321.86 Z" fill="#ff2424"/>
<path d="M448.65,330.91 L452.65,330.91 L450.65,333.31 Z" fill="#ff2424"/>
<circle cx="447.85" cy="329.78" r="1.0" fill="#ff2424" fill-opacity="0.6"/>
<circle cx="453.45" cy="329.78" r="1.0" fill="#ff2424" fill-opacity="0.6"/>
<rect x="467.3" y="241.59" width="9.5" height="56.41" fill="#8282e2" stroke="none" stroke-width="1" />
<line x1="467.3" y1="240.89" x2="467.3" y2="298" stroke="#1f1ff5" stroke-width="1.4" />
<line x1="476.8" y1="240.89" x2="476.8" y2="298" stroke="#1f1ff5" stroke-width="1.4" />
<rect x="467.3" y="305.1" width="9.5" height="27.1" fill="#8282e2" stroke="none" stroke-width="1" />
<line x1="467.3" y1="304.4" x2="467.3" y2="332.2" stroke="#1f1ff5" stroke-width="1.4" />
<line x1="476.8" y1="304.4" x2="476.8" y2="332.2" stroke="#1f1ff5" stroke-width="1.4" />
<line x1="466.6" y1="241.59" x2="477.5" y2="241.59" stroke="#1f1ff5" stroke-width="1.4" />
<line x1="472.05" y1="234.4" x2="472.05" y2="247.38" stroke="#1f1ff5" stroke-width="1.3" />
<line x1="469.45" y1="234.4" x2="474.65" y2="234.4" stroke="#1f1ff5" stroke-width="1.3" />
<line x1="469.45" y1="247.38" x2="474.65" y2="247.38" stroke="#1f1ff5" stroke-width="1.3" />
<path d="M470.05,235 L474.05,235 L472.05,232.6 Z" fill="#1f1ff5"/>
<path d="M470.05,246.78 L474.05,246.78 L472.05,249.18 Z" fill="#1f1ff5"/>
<circle cx="469.25" cy="243.09" r="1.0" fill="#1f1ff5" fill-opacity="0.6"/>
<circle cx="474.85" cy="243.09" r="1.0" fill="#1f1ff5" fill-opacity="0.6"/>
<rect x="478.2" y="322.51" width="9.5" height="9.69" fill="#ff8c8c" stroke="#ff2424" stroke-width="1.4" />
<line x1="482.95" y1="317.43" x2="482.95" y2="326.2" stroke="#ff2424" stroke-width="1.3" />
<line x1="480.35" y1="317.43" x2="485.55" y2="317.43" stroke="#ff2424" stroke-width="1.3" />
<line x1="480.35" y1="326.2" x2="485.55" y2="326.2" stroke="#ff2424" stroke-width="1.3" />
<path d="M480.95,318.03 L484.95,318.03 L482.95,315.63 Z" fill="#ff2424"/>
<path d="M480.95,325.6 L484.95,325.6 L482.95,328 Z" fill="#ff2424"/>
<circle cx="480.15" cy="324.01" r="1.0" fill="#ff2424" fill-opacity="0.6"/>
<circle cx="485.75" cy="324.01" r="1.0" fill="#ff2424" fill-opacity="0.6"/>
<rect x="499.7" y="260.41" width="9.5" height="37.59" fill="#8282e2" stroke="none" stroke-width="1" />
<line x1="499.7" y1="259.71" x2="499.7" y2="298" stroke="#1f1ff5" stroke-width="1.4" />
<line x1="509.2" y1="259.71" x2="509.2" y2="298" stroke="#1f1ff5" stroke-width="1.4" />
<rect x="499.7" y="305.1" width="9.5" height="27.1" fill="#8282e2" stroke="none" stroke-width="1" />
<line x1="499.7" y1="304.4" x2="499.7" y2="332.2" stroke="#1f1ff5" stroke-width="1.4" />
<line x1="509.2" y1="304.4" x2="509.2" y2="332.2" stroke="#1f1ff5" stroke-width="1.4" />
<line x1="499" y1="260.41" x2="509.9" y2="260.41" stroke="#1f1ff5" stroke-width="1.4" />
<line x1="504.45" y1="253.87" x2="504.45" y2="265.55" stroke="#1f1ff5" stroke-width="1.3" />
<line x1="501.85" y1="253.87" x2="507.05" y2="253.87" stroke="#1f1ff5" stroke-width="1.3" />
<line x1="501.85" y1="265.55" x2="507.05" y2="265.55" stroke="#1f1ff5" stroke-width="1.3" />
<path d="M502.45,254.47 L506.45,254.47 L504.45,252.07 Z" fill="#1f1ff5"/>
<path d="M502.45,264.95 L506.45,264.95 L504.45,267.35 Z" fill="#1f1ff5"/>
<circle cx="501.65" cy="261.91" r="1.0" fill="#1f1ff5" fill-opacity="0.6"/>
<circle cx="507.25" cy="261.91" r="1.0" fill="#1f1ff5" fill-opacity="0.6"/>
<rect x="510.6" y="327.13" width="9.5" height="5.07" fill="#ff8c8c" stroke="#ff2424" stroke-width="1.4" />
<line x1="515.35" y1="322.5" x2="515.35" y2="330.35" stroke="#ff2424" stroke-width="1.3" />
<line x1="512.75" y1="322.5" x2="517.95" y2="322.5" stroke="#ff2424" stroke-width="1.3" />
<line x1="512.75" y1="330.35" x2="517.95" y2="330.35" stroke="#ff2424" stroke-width="1.3" />
<path d="M513.35,323.11 L517.35,323.11 L515.35,320.7 Z" fill="#ff2424"/>
<path d="M513.35,329.75 L517.35,329.75 L515.35,332.15 Z" fill="#ff2424"/>
<circle cx="512.55" cy="328.63" r="1.0" fill="#ff2424" fill-opacity="0.6"/>
<circle cx="518.15" cy="328.63" r="1.0" fill="#ff2424" fill-opacity="0.6"/>
<line x1="364.3" y1="303.9" x2="364.3" y2="332.8" stroke="#1a1a1a" stroke-width="1.6" />
<line x1="364.3" y1="232.5" x2="364.3" y2="298.6" stroke="#1a1a1a" stroke-width="1.6" />
<line x1="361.1" y1="332.2" x2="364.3" y2="332.2" stroke="#1a1a1a" stroke-width="1.3" />
<text x="360.2" y="335.1" font-size="7.8" fill="#111" text-anchor="end" font-weight="bold" stroke="#111" stroke-width="0.2" >0</text>
<line x1="361.1" y1="309.12" x2="364.3" y2="309.12" stroke="#1a1a1a" stroke-width="1.3" />
<text x="360.2" y="312.02" font-size="7.8" fill="#111" text-anchor="end" font-weight="bold" stroke="#111" stroke-width="0.2" >10</text>
<line x1="361.1" y1="298" x2="364.3" y2="298" stroke="#1a1a1a" stroke-width="1.3" />
<text x="360.2" y="300.9" font-size="7.8" fill="#111" text-anchor="end" font-weight="bold" stroke="#111" stroke-width="0.2" >50</text>
<line x1="361.1" y1="281.77" x2="364.3" y2="281.77" stroke="#1a1a1a" stroke-width="1.3" />
<text x="360.2" y="284.67" font-size="7.8" fill="#111" text-anchor="end" font-weight="bold" stroke="#111" stroke-width="0.2" >60</text>
<line x1="361.1" y1="265.55" x2="364.3" y2="265.55" stroke="#1a1a1a" stroke-width="1.3" />
<text x="360.2" y="268.45" font-size="7.8" fill="#111" text-anchor="end" font-weight="bold" stroke="#111" stroke-width="0.2" >70</text>
<line x1="361.1" y1="249.32" x2="364.3" y2="249.32" stroke="#1a1a1a" stroke-width="1.3" />
<text x="360.2" y="252.22" font-size="7.8" fill="#111" text-anchor="end" font-weight="bold" stroke="#111" stroke-width="0.2" >80</text>
<line x1="361.1" y1="233.1" x2="364.3" y2="233.1" stroke="#1a1a1a" stroke-width="1.3" />
<text x="360.2" y="236" font-size="7.8" fill="#111" text-anchor="end" font-weight="bold" stroke="#111" stroke-width="0.2" >90</text>
<line x1="361.1" y1="304.5" x2="364.3" y2="304.5" stroke="#1a1a1a" stroke-width="1.3" />
<line x1="360" y1="332.2" x2="527.2" y2="332.2" stroke="#262626" stroke-width="1.3" />
<line x1="380.3" y1="332.2" x2="380.3" y2="334.8" stroke="#1a1a1a" stroke-width="1.2" />
<text x="380.3" y="344.2" font-size="8.6" fill="#111" text-anchor="middle" font-weight="bold" stroke="#111" stroke-width="0.3" >0</text>
<line x1="412.7" y1="332.2" x2="412.7" y2="334.8" stroke="#1a1a1a" stroke-width="1.2" />
<text x="412.7" y="344.2" font-size="8.6" fill="#111" text-anchor="middle" font-weight="bold" stroke="#111" stroke-width="0.3" >1</text>
<line x1="445.2" y1="332.2" x2="445.2" y2="334.8" stroke="#1a1a1a" stroke-width="1.2" />
<text x="445.2" y="344.2" font-size="8.6" fill="#111" text-anchor="middle" font-weight="bold" stroke="#111" stroke-width="0.3" >5</text>
<line x1="477.5" y1="332.2" x2="477.5" y2="334.8" stroke="#1a1a1a" stroke-width="1.2" />
<text x="477.5" y="344.2" font-size="8.6" fill="#111" text-anchor="middle" font-weight="bold" stroke="#111" stroke-width="0.3" >10</text>
<line x1="509.9" y1="332.2" x2="509.9" y2="334.8" stroke="#1a1a1a" stroke-width="1.2" />
<text x="509.9" y="344.2" font-size="8.6" fill="#111" text-anchor="middle" font-weight="bold" stroke="#111" stroke-width="0.3" >50</text>
<text transform="translate(348.5,280.7) rotate(-90)" x="0" y="0" font-size="9.2" fill="#111" text-anchor="middle" font-weight="bold" textLength="82.2" lengthAdjust="spacingAndGlyphs">DCF High cells (%)</text>
<rect x="372" y="238.1" width="3" height="3" fill="#1f1ff5" stroke="none" stroke-width="1" />
<rect x="372" y="248.7" width="3" height="3" fill="#ff2424" stroke="none" stroke-width="1" />
<text x="381.4" y="242.3" font-size="8" fill="#1a1a1a" text-anchor="start" font-weight="bold" stroke="#1a1a1a" stroke-width="0.1" textLength="34.9" lengthAdjust="spacingAndGlyphs" >LRRK2 WT</text>
<text x="381.4" y="252.9" font-size="8" fill="#1a1a1a" text-anchor="start" font-weight="bold" stroke="#1a1a1a" stroke-width="0.1" textLength="34.6" lengthAdjust="spacingAndGlyphs" >LRRK2 KO</text>
<polyline points="438.2,238 438.2,233.8 451.8,233.8 451.8,319.8" fill="none" stroke="#1a1a1a" stroke-width="1.3"/>
<text x="436.5" y="225.2" font-size="6.2" fill="#222" text-anchor="start" font-weight="bold" stroke="#222" stroke-width="0.15" textLength="16.4" lengthAdjust="spacingAndGlyphs" >p&lt;0.001</text>
<circle cx="440.8" cy="228.4" r="1.25" fill="#111"/>
<circle cx="445.3" cy="228.4" r="1.25" fill="#111"/>
<circle cx="449.8" cy="228.4" r="1.25" fill="#111"/>
<polyline points="474.8,232.4 474.8,229.1 483.4,229.1 483.4,314.5" fill="none" stroke="#1a1a1a" stroke-width="1.3"/>
<text x="472.1" y="220.2" font-size="6.2" fill="#222" text-anchor="start" font-weight="bold" stroke="#222" stroke-width="0.15" textLength="16.4" lengthAdjust="spacingAndGlyphs" >p&lt;0.001</text>
<circle cx="474.9" cy="223.6" r="1.25" fill="#111"/>
<circle cx="479.4" cy="223.6" r="1.25" fill="#111"/>
<circle cx="483.9" cy="223.6" r="1.25" fill="#111"/>
<polyline points="504.5,248.7 504.5,245.5 515.4,245.5 515.4,319.5" fill="none" stroke="#1a1a1a" stroke-width="1.3"/>
<text x="502.1" y="235.4" font-size="6.2" fill="#222" text-anchor="start" font-weight="bold" stroke="#222" stroke-width="0.15" textLength="15.8" lengthAdjust="spacingAndGlyphs" >p&lt;0.001</text>
<circle cx="505.9" cy="239.7" r="1.25" fill="#111"/>
<circle cx="510.4" cy="239.7" r="1.25" fill="#111"/>
<circle cx="514.9" cy="239.7" r="1.25" fill="#111"/>
<text x="325.2" y="230.7" font-size="14.5" fill="#111" text-anchor="start" font-weight="bold" stroke="#111" stroke-width="0.3" >F</text>
<rect x="369" y="466.07" width="9.6" height="25.43" fill="#8282e2" stroke="#1f1ff5" stroke-width="1.4" />
<line x1="373.8" y1="456.32" x2="373.8" y2="474.42" stroke="#1f1ff5" stroke-width="1.3" />
<line x1="371.2" y1="456.32" x2="376.4" y2="456.32" stroke="#1f1ff5" stroke-width="1.3" />
<line x1="371.2" y1="474.42" x2="376.4" y2="474.42" stroke="#1f1ff5" stroke-width="1.3" />
<path d="M371.8,456.93 L375.8,456.93 L373.8,454.52 Z" fill="#1f1ff5"/>
<path d="M371.8,473.81 L375.8,473.81 L373.8,476.22 Z" fill="#1f1ff5"/>
<circle cx="371" cy="467.57" r="1.0" fill="#1f1ff5" fill-opacity="0.6"/>
<circle cx="376.6" cy="467.57" r="1.0" fill="#1f1ff5" fill-opacity="0.6"/>
<rect x="380" y="482.65" width="9.6" height="8.85" fill="#ff8c8c" stroke="#ff2424" stroke-width="1.4" />
<line x1="384.8" y1="476.43" x2="384.8" y2="487.48" stroke="#ff2424" stroke-width="1.3" />
<line x1="382.2" y1="476.43" x2="387.4" y2="476.43" stroke="#ff2424" stroke-width="1.3" />
<line x1="382.2" y1="487.48" x2="387.4" y2="487.48" stroke="#ff2424" stroke-width="1.3" />
<path d="M382.8,477.03 L386.8,477.03 L384.8,474.62 Z" fill="#ff2424"/>
<path d="M382.8,486.88 L386.8,486.88 L384.8,489.28 Z" fill="#ff2424"/>
<circle cx="382" cy="484.15" r="1.0" fill="#ff2424" fill-opacity="0.6"/>
<circle cx="387.6" cy="484.15" r="1.0" fill="#ff2424" fill-opacity="0.6"/>
<rect x="401.6" y="441.95" width="9.6" height="49.55" fill="#8282e2" stroke="#1f1ff5" stroke-width="1.4" />
<line x1="406.4" y1="436.23" x2="406.4" y2="446.27" stroke="#1f1ff5" stroke-width="1.3" />
<line x1="403.8" y1="436.23" x2="409" y2="436.23" stroke="#1f1ff5" stroke-width="1.3" />
<line x1="403.8" y1="446.27" x2="409" y2="446.27" stroke="#1f1ff5" stroke-width="1.3" />
<path d="M404.4,436.83 L408.4,436.83 L406.4,434.43 Z" fill="#1f1ff5"/>
<path d="M404.4,445.67 L408.4,445.67 L406.4,448.07 Z" fill="#1f1ff5"/>
<circle cx="403.6" cy="443.45" r="1.0" fill="#1f1ff5" fill-opacity="0.6"/>
<circle cx="409.2" cy="443.45" r="1.0" fill="#1f1ff5" fill-opacity="0.6"/>
<rect x="412.6" y="475.62" width="9.6" height="15.88" fill="#ff8c8c" stroke="#ff2424" stroke-width="1.4" />
<line x1="417.4" y1="465.87" x2="417.4" y2="483.96" stroke="#ff2424" stroke-width="1.3" />
<line x1="414.8" y1="465.87" x2="420" y2="465.87" stroke="#ff2424" stroke-width="1.3" />
<line x1="414.8" y1="483.96" x2="420" y2="483.96" stroke="#ff2424" stroke-width="1.3" />
<path d="M415.4,466.47 L419.4,466.47 L417.4,464.07 Z" fill="#ff2424"/>
<path d="M415.4,483.36 L419.4,483.36 L417.4,485.76 Z" fill="#ff2424"/>
<circle cx="414.6" cy="477.12" r="1.0" fill="#ff2424" fill-opacity="0.6"/>
<circle cx="420.2" cy="477.12" r="1.0" fill="#ff2424" fill-opacity="0.6"/>
<rect x="435.2" y="443.96" width="9.6" height="47.54" fill="#8282e2" stroke="#1f1ff5" stroke-width="1.4" />
<line x1="440" y1="435.22" x2="440" y2="451.3" stroke="#1f1ff5" stroke-width="1.3" />
<line x1="437.4" y1="435.22" x2="442.6" y2="435.22" stroke="#1f1ff5" stroke-width="1.3" />
<line x1="437.4" y1="451.3" x2="442.6" y2="451.3" stroke="#1f1ff5" stroke-width="1.3" />
<path d="M438,435.82 L442,435.82 L440,433.42 Z" fill="#1f1ff5"/>
<path d="M438,450.7 L442,450.7 L440,453.1 Z" fill="#1f1ff5"/>
<circle cx="437.2" cy="445.46" r="1.0" fill="#1f1ff5" fill-opacity="0.6"/>
<circle cx="442.8" cy="445.46" r="1.0" fill="#1f1ff5" fill-opacity="0.6"/>
<rect x="446.2" y="477.63" width="9.6" height="13.87" fill="#ff8c8c" stroke="#ff2424" stroke-width="1.4" />
<line x1="451" y1="470.9" x2="451" y2="482.96" stroke="#ff2424" stroke-width="1.3" />
<line x1="448.4" y1="470.9" x2="453.6" y2="470.9" stroke="#ff2424" stroke-width="1.3" />
<line x1="448.4" y1="482.96" x2="453.6" y2="482.96" stroke="#ff2424" stroke-width="1.3" />
<path d="M449,471.5 L453,471.5 L451,469.1 Z" fill="#ff2424"/>
<path d="M449,482.36 L453,482.36 L451,484.76 Z" fill="#ff2424"/>
<circle cx="448.2" cy="479.13" r="1.0" fill="#ff2424" fill-opacity="0.6"/>
<circle cx="453.8" cy="479.13" r="1.0" fill="#ff2424" fill-opacity="0.6"/>
<rect x="468.2" y="430.39" width="9.6" height="61.11" fill="#8282e2" stroke="#1f1ff5" stroke-width="1.4" />
<line x1="473" y1="420.65" x2="473" y2="438.74" stroke="#1f1ff5" stroke-width="1.3" />
<line x1="470.4" y1="420.65" x2="475.6" y2="420.65" stroke="#1f1ff5" stroke-width="1.3" />
<line x1="470.4" y1="438.74" x2="475.6" y2="438.74" stroke="#1f1ff5" stroke-width="1.3" />
<path d="M471,421.25 L475,421.25 L473,418.85 Z" fill="#1f1ff5"/>
<path d="M471,438.14 L475,438.14 L473,440.54 Z" fill="#1f1ff5"/>
<circle cx="470.2" cy="431.89" r="1.0" fill="#1f1ff5" fill-opacity="0.6"/>
<circle cx="475.8" cy="431.89" r="1.0" fill="#1f1ff5" fill-opacity="0.6"/>
<rect x="479.2" y="471.09" width="9.6" height="20.41" fill="#ff8c8c" stroke="#ff2424" stroke-width="1.4" />
<line x1="484" y1="460.85" x2="484" y2="479.94" stroke="#ff2424" stroke-width="1.3" />
<line x1="481.4" y1="460.85" x2="486.6" y2="460.85" stroke="#ff2424" stroke-width="1.3" />
<line x1="481.4" y1="479.94" x2="486.6" y2="479.94" stroke="#ff2424" stroke-width="1.3" />
<path d="M482,461.45 L486,461.45 L484,459.05 Z" fill="#ff2424"/>
<path d="M482,479.34 L486,479.34 L484,481.74 Z" fill="#ff2424"/>
<circle cx="481.2" cy="472.59" r="1.0" fill="#ff2424" fill-opacity="0.6"/>
<circle cx="486.8" cy="472.59" r="1.0" fill="#ff2424" fill-opacity="0.6"/>
<rect x="501.5" y="408.78" width="9.6" height="82.72" fill="#8282e2" stroke="#1f1ff5" stroke-width="1.4" />
<line x1="506.3" y1="400.05" x2="506.3" y2="416.12" stroke="#1f1ff5" stroke-width="1.3" />
<line x1="503.7" y1="400.05" x2="508.9" y2="400.05" stroke="#1f1ff5" stroke-width="1.3" />
<line x1="503.7" y1="416.12" x2="508.9" y2="416.12" stroke="#1f1ff5" stroke-width="1.3" />
<path d="M504.3,400.65 L508.3,400.65 L506.3,398.25 Z" fill="#1f1ff5"/>
<path d="M504.3,415.52 L508.3,415.52 L506.3,417.93 Z" fill="#1f1ff5"/>
<circle cx="503.5" cy="410.28" r="1.0" fill="#1f1ff5" fill-opacity="0.6"/>
<circle cx="509.1" cy="410.28" r="1.0" fill="#1f1ff5" fill-opacity="0.6"/>
<rect x="512.5" y="454.01" width="9.6" height="37.49" fill="#ff8c8c" stroke="#ff2424" stroke-width="1.4" />
<line x1="517.3" y1="440.75" x2="517.3" y2="465.87" stroke="#ff2424" stroke-width="1.3" />
<line x1="514.7" y1="440.75" x2="519.9" y2="440.75" stroke="#ff2424" stroke-width="1.3" />
<line x1="514.7" y1="465.87" x2="519.9" y2="465.87" stroke="#ff2424" stroke-width="1.3" />
<path d="M515.3,441.35 L519.3,441.35 L517.3,438.95 Z" fill="#ff2424"/>
<path d="M515.3,465.27 L519.3,465.27 L517.3,467.67 Z" fill="#ff2424"/>
<circle cx="514.5" cy="455.51" r="1.0" fill="#ff2424" fill-opacity="0.6"/>
<circle cx="520.1" cy="455.51" r="1.0" fill="#ff2424" fill-opacity="0.6"/>
<line x1="363.2" y1="390.4" x2="363.2" y2="492.1" stroke="#1a1a1a" stroke-width="1.6" />
<line x1="360" y1="491.5" x2="363.2" y2="491.5" stroke="#1a1a1a" stroke-width="1.3" />
<text x="358.4" y="494.4" font-size="7.8" fill="#111" text-anchor="end" font-weight="bold" stroke="#111" stroke-width="0.2" >0</text>
<line x1="360" y1="466.38" x2="363.2" y2="466.38" stroke="#1a1a1a" stroke-width="1.3" />
<text x="358.4" y="469.27" font-size="7.8" fill="#111" text-anchor="end" font-weight="bold" stroke="#111" stroke-width="0.2" >5</text>
<line x1="360" y1="441.25" x2="363.2" y2="441.25" stroke="#1a1a1a" stroke-width="1.3" />
<text x="358.4" y="444.15" font-size="7.8" fill="#111" text-anchor="end" font-weight="bold" stroke="#111" stroke-width="0.2" >10</text>
<line x1="360" y1="416.12" x2="363.2" y2="416.12" stroke="#1a1a1a" stroke-width="1.3" />
<text x="358.4" y="419.02" font-size="7.8" fill="#111" text-anchor="end" font-weight="bold" stroke="#111" stroke-width="0.2" >15</text>
<line x1="360" y1="391" x2="363.2" y2="391" stroke="#1a1a1a" stroke-width="1.3" />
<text x="358.4" y="393.9" font-size="7.8" fill="#111" text-anchor="end" font-weight="bold" stroke="#111" stroke-width="0.2" >20</text>
<line x1="359" y1="491.5" x2="528.7" y2="491.5" stroke="#262626" stroke-width="1.3" />
<line x1="379.3" y1="491.5" x2="379.3" y2="494.1" stroke="#1a1a1a" stroke-width="1.2" />
<text x="379.3" y="503.6" font-size="8.6" fill="#111" text-anchor="middle" font-weight="bold" stroke="#111" stroke-width="0.3" >0</text>
<line x1="411.9" y1="491.5" x2="411.9" y2="494.1" stroke="#1a1a1a" stroke-width="1.2" />
<text x="411.9" y="503.6" font-size="8.6" fill="#111" text-anchor="middle" font-weight="bold" stroke="#111" stroke-width="0.3" >1</text>
<line x1="445.5" y1="491.5" x2="445.5" y2="494.1" stroke="#1a1a1a" stroke-width="1.2" />
<text x="445.5" y="503.6" font-size="8.6" fill="#111" text-anchor="middle" font-weight="bold" stroke="#111" stroke-width="0.3" >5</text>
<line x1="478.5" y1="491.5" x2="478.5" y2="494.1" stroke="#1a1a1a" stroke-width="1.2" />
<text x="478.5" y="503.6" font-size="8.6" fill="#111" text-anchor="middle" font-weight="bold" stroke="#111" stroke-width="0.3" >10</text>
<line x1="511.8" y1="491.5" x2="511.8" y2="494.1" stroke="#1a1a1a" stroke-width="1.2" />
<text x="511.8" y="503.6" font-size="8.6" fill="#111" text-anchor="middle" font-weight="bold" stroke="#111" stroke-width="0.3" >50</text>
<text transform="translate(346.8,439.4) rotate(-90)" x="0" y="0" font-size="9.6" fill="#111" text-anchor="middle" font-weight="bold" textLength="73.2" lengthAdjust="spacingAndGlyphs">Sub-G1 cells (%)</text>
<rect x="370.6" y="384.1" width="3" height="3" fill="#1f1ff5" stroke="none" stroke-width="1" />
<rect x="370.6" y="394.8" width="3" height="3" fill="#ff2424" stroke="none" stroke-width="1" />
<text x="380.3" y="388.3" font-size="8" fill="#1a1a1a" text-anchor="start" font-weight="bold" stroke="#1a1a1a" stroke-width="0.1" textLength="35.7" lengthAdjust="spacingAndGlyphs" >LRRK2 WT</text>
<text x="380.3" y="399" font-size="8" fill="#1a1a1a" text-anchor="start" font-weight="bold" stroke="#1a1a1a" stroke-width="0.1" textLength="35.4" lengthAdjust="spacingAndGlyphs" >LRRK2 KO</text>
<polyline points="373.7,450.5 373.7,446.6 386.3,446.6 386.3,473.5" fill="none" stroke="#1a1a1a" stroke-width="1.3"/>
<text x="370.5" y="437.3" font-size="6.2" fill="#222" text-anchor="start" font-weight="bold" stroke="#222" stroke-width="0.15" textLength="17.2" lengthAdjust="spacingAndGlyphs" >p=0.056</text>
<text x="379.6" y="442.6" font-size="7.2" fill="#111" text-anchor="middle" font-weight="bold" stroke="#111" stroke-width="0.2" >ns</text>
<polyline points="406,432.7 406,430.2 416.9,430.2 416.9,463.7" fill="none" stroke="#1a1a1a" stroke-width="1.3"/>
<text x="404.9" y="420.9" font-size="6.2" fill="#222" text-anchor="start" font-weight="bold" stroke="#222" stroke-width="0.15" textLength="16.7" lengthAdjust="spacingAndGlyphs" >p&lt;0.001</text>
<circle cx="407" cy="425" r="1.25" fill="#111"/>
<circle cx="411.5" cy="425" r="1.25" fill="#111"/>
<circle cx="416" cy="425" r="1.25" fill="#111"/>
<polyline points="436.7,431 436.7,427.3 451.8,427.3 451.8,467.6" fill="none" stroke="#1a1a1a" stroke-width="1.3"/>
<text x="434.5" y="418.1" font-size="6.2" fill="#222" text-anchor="start" font-weight="bold" stroke="#222" stroke-width="0.15" textLength="17" lengthAdjust="spacingAndGlyphs" >p&lt;0.001</text>
<circle cx="440" cy="422.4" r="1.25" fill="#111"/>
<circle cx="444.5" cy="422.4" r="1.25" fill="#111"/>
<circle cx="449" cy="422.4" r="1.25" fill="#111"/>
<polyline points="472.7,417 472.7,414 484.5,414 484.5,455.5" fill="none" stroke="#1a1a1a" stroke-width="1.3"/>
<text x="467.8" y="404.7" font-size="6.2" fill="#222" text-anchor="start" font-weight="bold" stroke="#222" stroke-width="0.15" textLength="16.7" lengthAdjust="spacingAndGlyphs" >p&lt;0.001</text>
<circle cx="474.4" cy="409.1" r="1.25" fill="#111"/>
<circle cx="478.9" cy="409.1" r="1.25" fill="#111"/>
<circle cx="483.4" cy="409.1" r="1.25" fill="#111"/>
<polyline points="506,400 506,397.6 518.2,397.6 518.2,435.5" fill="none" stroke="#1a1a1a" stroke-width="1.3"/>
<text x="504.9" y="388.7" font-size="6.2" fill="#222" text-anchor="start" font-weight="bold" stroke="#222" stroke-width="0.15" textLength="16.9" lengthAdjust="spacingAndGlyphs" >p&lt;0.001</text>
<circle cx="507.4" cy="392.7" r="1.25" fill="#111"/>
<circle cx="511.9" cy="392.7" r="1.25" fill="#111"/>
<circle cx="516.4" cy="392.7" r="1.25" fill="#111"/>
<text x="331.6" y="391.6" font-size="14.5" fill="#111" text-anchor="start" font-weight="bold" stroke="#111" stroke-width="0.3" >I</text>
</svg></body></html>
